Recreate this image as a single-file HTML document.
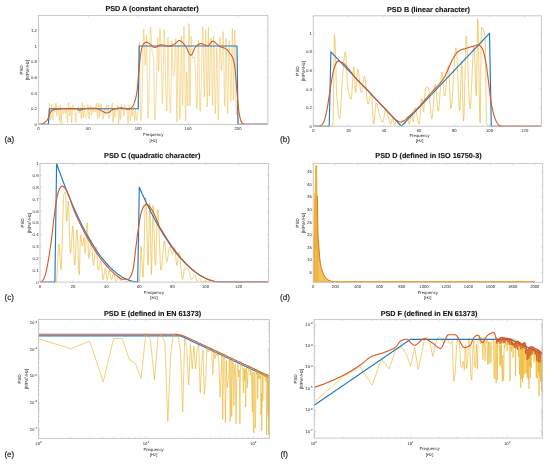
<!DOCTYPE html>
<html><head><meta charset="utf-8"><title>PSD figure</title>
<style>html,body{margin:0;padding:0;background:#fff;width:550px;height:464px;overflow:hidden}svg{display:block}</style>
</head><body>
<svg width="550" height="464" viewBox="0 0 550 464" font-family="'Liberation Sans', Arial, Helvetica, sans-serif" text-rendering="geometricPrecision">
<rect width="550" height="464" fill="#fff"/>
<clipPath id="ca"><rect x="38.4" y="14.5" width="229.49999999999997" height="110.4"/></clipPath>
<polyline clip-path="url(#ca)" points="38.4,124.4 38.7,124.4 39.0,124.4 39.3,124.4 39.6,124.4 39.9,124.4 40.2,124.4 40.5,124.4 40.8,124.4 41.1,124.4 41.4,124.4 41.7,124.4 42.0,124.4 42.3,124.4 42.6,124.4 42.9,124.4 43.2,124.4 43.5,124.4 43.8,124.4 44.1,124.4 44.4,124.4 44.7,124.4 45.0,124.4 45.3,124.4 45.6,124.4 45.9,124.4 46.2,124.4 46.5,124.4 46.8,124.4 47.1,124.4 47.4,124.4 47.7,124.4 48.0,124.4 48.3,124.4 48.6,122.2 48.9,113.8 49.2,105.4 49.5,103.5 49.8,107.9 50.1,114.5 50.4,119.7 50.7,120.1 51.0,115.7 51.3,109.7 51.6,104.8 51.9,104.1 52.2,108.4 52.5,114.7 52.8,119.7 53.1,119.7 53.4,113.5 53.7,107.3 54.0,106.8 54.3,108.8 54.6,111.1 54.9,111.8 55.2,109.8 55.5,106.3 55.8,103.3 56.1,103.0 56.4,108.9 56.7,115.6 57.0,115.4 57.3,109.2 57.6,105.9 57.9,106.5 58.2,108.0 58.5,109.8 58.8,112.7 59.1,117.2 59.4,120.7 59.7,119.5 60.0,109.9 60.3,104.7 60.6,111.8 60.9,121.8 61.2,123.9 61.4,119.7 61.7,113.6 62.0,108.7 62.3,107.8 62.6,109.3 62.9,111.5 63.2,113.3 63.5,113.7 63.8,112.3 64.1,110.3 64.4,109.0 64.7,109.3 65.0,111.1 65.3,112.9 65.6,113.4 65.9,111.8 66.2,109.8 66.5,109.3 66.8,113.6 67.1,119.8 67.4,122.5 67.7,118.7 68.0,111.6 68.3,105.0 68.6,102.7 68.9,106.0 69.2,111.7 69.5,116.0 69.8,115.6 70.1,112.3 70.4,108.4 70.7,106.4 71.0,110.8 71.3,119.3 71.6,123.1 71.9,120.0 72.2,114.0 72.5,108.0 72.8,104.8 73.1,105.8 73.4,108.3 73.7,109.8 74.0,109.2 74.3,108.0 74.6,107.9 74.9,111.2 75.2,116.5 75.5,121.1 75.8,122.5 76.1,118.8 76.4,114.1 76.7,112.7 77.0,112.5 77.3,112.2 77.6,111.2 77.9,109.0 78.2,107.1 78.5,106.8 78.8,109.6 79.1,112.8 79.4,113.0 79.7,110.7 80.0,108.1 80.3,107.3 80.6,110.2 80.9,114.9 81.2,118.9 81.5,118.6 81.8,109.2 82.1,102.7 82.4,105.4 82.7,111.3 83.0,116.5 83.3,117.6 83.6,114.7 83.9,110.2 84.2,106.4 84.5,105.5 84.8,108.7 85.1,113.7 85.4,117.4 85.7,117.9 86.0,117.7 86.3,117.3 86.6,116.9 86.9,115.5 87.2,111.9 87.5,107.7 87.8,104.7 88.1,104.8 88.4,109.0 88.7,114.6 89.0,118.6 89.3,118.4 89.6,114.4 89.9,109.2 90.2,105.5 90.5,105.7 90.8,108.7 91.1,112.5 91.4,115.1 91.7,114.1 92.0,109.9 92.3,107.0 92.6,108.3 92.9,111.3 93.2,112.5 93.5,111.2 93.8,109.1 94.1,107.7 94.4,107.9 94.7,109.2 95.0,110.8 95.3,111.9 95.6,111.6 95.9,108.5 96.2,104.8 96.5,103.2 96.8,106.4 97.1,112.3 97.4,117.6 97.7,118.8 98.0,115.3 98.3,109.6 98.6,104.6 98.9,103.2 99.2,110.0 99.5,117.4 99.8,116.8 100.1,112.8 100.4,107.9 100.7,104.4 101.0,104.0 101.3,105.4 101.6,107.5 101.9,109.7 102.2,111.9 102.5,114.8 102.8,117.5 103.1,119.2 103.4,118.3 103.7,112.8 104.0,108.2 104.3,108.6 104.6,110.4 104.9,112.5 105.2,114.0 105.5,113.4 105.8,110.3 106.1,106.8 106.4,105.3 106.7,106.8 107.0,109.5 107.2,111.9 107.5,112.0 107.8,109.4 108.1,106.2 108.4,105.2 108.7,110.6 109.0,117.8 109.3,118.9 109.6,116.8 109.9,113.9 110.2,111.6 110.5,111.1 110.8,110.9 111.1,110.6 111.4,109.1 111.7,106.6 112.0,104.2 112.3,103.0 112.6,110.2 112.9,122.0 113.2,122.7 113.5,115.3 113.8,108.7 114.1,109.1 114.4,112.4 114.7,115.8 115.0,116.9 115.3,113.7 115.6,109.9 115.9,109.5 116.2,110.1 116.5,110.7 116.8,110.4 117.1,108.8 117.4,106.7 117.7,105.3 118.0,107.8 118.3,117.4 118.6,123.9 118.9,122.0 119.2,117.2 119.5,112.4 119.8,110.1 120.1,113.8 120.4,119.5 120.7,118.4 121.0,109.5 121.3,103.9 121.6,105.2 121.9,107.5 122.2,108.7 122.5,108.5 122.8,108.2 123.1,108.7 123.4,112.6 123.7,116.1 124.0,115.2 124.3,110.9 124.6,106.5 124.9,104.9 125.2,105.8 125.5,107.3 125.8,108.5 126.1,108.6 126.4,108.4 126.7,108.2 127.0,109.0 127.3,113.4 127.6,119.1 127.9,123.3 128.2,123.3 128.5,117.5 128.8,110.1 129.1,105.7 129.4,107.1 129.7,111.8 130.0,117.2 130.3,120.8 130.6,120.1 130.9,115.1 131.2,110.1 131.5,109.1 131.8,111.8 132.1,115.0 132.4,116.0 132.7,113.9 133.0,110.6 133.3,107.7 133.6,107.1 133.9,111.4 134.2,117.5 134.5,121.2 134.8,118.9 135.1,112.9 135.4,109.0 135.7,110.4 136.0,114.5 136.3,118.7 136.6,120.6 136.9,119.8 137.2,117.9 137.5,115.8 137.8,113.2 138.1,109.3 138.4,95.0 138.7,69.0 139.0,46.4 139.3,41.6 139.6,52.6 139.9,71.8 140.2,93.3 140.5,111.5 140.8,120.5 141.1,119.5 141.4,115.5 141.7,109.5 142.0,102.3 142.3,93.7 142.6,78.3 142.9,59.6 143.2,42.1 143.5,30.5 143.8,28.8 144.1,34.6 144.4,44.0 144.7,54.2 145.0,62.2 145.3,65.2 145.6,60.1 145.9,49.7 146.2,39.4 146.5,34.5 146.8,41.8 147.1,60.7 147.4,84.3 147.7,105.7 148.0,117.9 148.3,117.2 148.6,109.9 148.9,98.7 149.2,85.9 149.5,73.5 149.8,57.0 150.1,38.5 150.4,26.9 150.7,27.2 151.0,31.7 151.3,38.0 151.6,44.5 151.9,49.4 152.2,51.8 152.5,53.4 152.8,54.6 153.1,55.8 153.3,57.6 153.6,60.2 153.9,70.2 154.2,89.3 154.5,108.9 154.8,120.3 155.1,119.4 155.4,114.2 155.7,106.3 156.0,96.9 156.3,87.3 156.6,77.8 156.9,64.9 157.2,51.2 157.5,40.8 157.8,37.6 158.1,48.0 158.4,63.8 158.7,71.4 159.0,64.6 159.3,50.4 159.6,36.0 159.9,28.5 160.2,30.2 160.5,35.6 160.8,43.2 161.1,51.6 161.4,62.1 161.7,77.8 162.0,93.5 162.3,103.5 162.6,102.6 162.9,91.5 163.2,74.4 163.5,55.6 163.8,39.2 164.1,29.7 164.4,30.3 164.7,39.0 165.0,52.6 165.3,67.9 165.6,82.1 165.9,92.1 166.2,100.3 166.5,107.5 166.8,111.0 167.1,100.2 167.4,71.2 167.7,43.9 168.0,37.2 168.3,45.2 168.6,59.5 168.9,76.1 169.2,91.0 169.5,100.1 169.8,105.5 170.1,110.1 170.4,112.9 170.7,111.6 171.0,95.7 171.3,71.9 171.6,50.1 171.9,40.6 172.2,46.2 172.5,58.4 172.8,70.5 173.1,75.6 173.4,75.5 173.7,75.2 174.0,74.8 174.3,72.1 174.6,65.1 174.9,56.0 175.2,47.0 175.5,40.3 175.8,38.5 176.1,57.8 176.4,91.4 176.7,118.9 177.0,121.6 177.3,104.4 177.6,78.9 177.9,55.6 178.2,44.7 178.5,50.5 178.8,66.0 179.1,86.0 179.4,105.1 179.7,118.1 180.0,119.5 180.3,105.0 180.6,81.1 180.9,56.0 181.2,38.1 181.5,36.0 181.8,55.5 182.1,83.8 182.4,105.4 182.7,105.9 183.0,88.0 183.3,62.1 183.6,38.2 183.9,26.5 184.2,32.9 184.5,51.7 184.8,76.4 185.1,100.5 185.4,117.6 185.7,120.9 186.0,105.6 186.3,84.1 186.6,72.3 186.9,77.8 187.2,90.8 187.5,103.1 187.8,106.0 188.1,91.1 188.4,65.0 188.7,38.9 189.0,23.5 189.3,34.7 189.6,73.1 189.9,105.8 190.2,102.6 190.5,72.5 190.8,42.7 191.1,36.4 191.4,39.5 191.7,44.6 192.0,50.4 192.3,55.3 192.6,57.9 192.9,57.9 193.2,57.7 193.5,57.4 193.8,57.2 194.1,57.0 194.4,57.4 194.7,60.5 195.0,65.8 195.3,72.3 195.6,79.2 195.9,85.9 196.2,95.4 196.5,104.4 196.8,108.7 197.1,103.9 197.4,90.7 197.7,73.4 198.0,56.4 198.3,43.9 198.6,40.3 198.9,47.8 199.1,62.8 199.4,81.1 199.7,98.2 200.0,109.7 200.3,111.6 200.6,106.4 200.9,97.8 201.2,88.7 201.5,76.9 201.8,61.7 202.1,46.2 202.4,33.4 202.7,26.5 203.0,29.6 203.3,44.4 203.6,65.0 203.9,84.8 204.2,97.1 204.5,95.2 204.8,77.6 205.1,53.9 205.4,34.6 205.7,29.9 206.0,39.9 206.3,58.2 206.6,79.3 206.9,97.4 207.2,107.0 207.5,98.2 207.8,68.8 208.1,38.4 208.4,27.4 208.7,47.1 209.0,78.6 209.3,96.2 209.6,92.2 209.9,81.3 210.2,66.9 210.5,52.5 210.8,41.7 211.1,37.8 211.4,45.3 211.7,61.7 212.0,81.2 212.3,97.7 212.6,105.5 212.9,91.8 213.2,60.2 213.5,35.6 213.8,36.1 214.1,49.2 214.4,68.5 214.7,88.9 215.0,105.6 215.3,113.7 215.6,108.4 215.9,92.5 216.2,72.5 216.5,55.3 216.8,47.7 217.1,55.4 217.4,74.5 217.7,97.0 218.0,114.9 218.3,120.3 218.6,110.9 218.9,92.4 219.2,70.3 219.5,50.3 219.8,37.9 220.1,37.4 220.4,43.6 220.7,52.9 221.0,62.4 221.3,69.2 221.6,70.6 221.9,65.2 222.2,55.7 222.5,44.9 222.8,35.8 223.1,31.5 223.4,36.7 223.7,52.4 224.0,73.0 224.3,92.7 224.6,105.9 224.9,106.3 225.2,89.8 225.5,65.5 225.8,44.7 226.1,38.4 226.4,48.2 226.7,66.9 227.0,88.2 227.3,105.8 227.6,113.4 227.9,106.9 228.2,90.3 228.5,69.7 228.8,51.1 229.1,40.5 229.4,42.6 229.7,54.1 230.0,70.3 230.3,86.6 230.6,98.6 230.9,101.6 231.2,92.3 231.5,74.6 231.8,54.3 232.1,37.2 232.4,28.8 232.7,42.5 233.0,76.0 233.3,100.3 233.6,96.5 233.9,79.2 234.2,57.0 234.5,38.0 234.8,30.1 235.1,39.2 235.4,60.1 235.7,85.0 236.0,105.9 236.3,114.7 236.6,112.6 236.9,107.8 237.2,103.0 237.5,100.9 237.8,106.0 238.1,116.1 238.4,123.7 238.7,124.4 239.0,124.4 239.3,124.4 239.6,124.4 239.9,124.4 240.2,124.4 240.5,124.4 240.8,124.4 241.1,124.4 241.4,124.4 241.7,124.4 242.0,124.4 242.3,124.4 242.6,124.4 242.9,124.4 243.2,124.4 243.5,124.4 243.8,124.4 244.1,124.4 244.4,124.4 244.7,124.4 244.9,124.4 245.2,124.4 245.5,124.4 245.8,124.4 246.1,124.4 246.4,124.4 246.7,124.4 247.0,124.4 247.3,124.4 247.6,124.4 247.9,124.4 248.2,124.4 248.5,124.4 248.8,124.4 249.1,124.4 249.4,124.4 249.7,124.4 250.0,124.4 250.3,124.4 250.6,124.4 250.9,124.4 251.2,124.4 251.5,124.4 251.8,124.4 252.1,124.4 252.4,124.4 252.7,124.4 253.0,124.4 253.3,124.4 253.6,124.4 253.9,124.4 254.2,124.4 254.5,124.4 254.8,124.4 255.1,124.4 255.4,124.4 255.7,124.4 256.0,124.4 256.3,124.4 256.6,124.4 256.9,124.4 257.2,124.4 257.5,124.4 257.8,124.4 258.1,124.4 258.4,124.4 258.7,124.4 259.0,124.4 259.3,124.4 259.6,124.4 259.9,124.4 260.2,124.4 260.5,124.4 260.8,124.4 261.1,124.4 261.4,124.4 261.7,124.4 262.0,124.4 262.3,124.4 262.6,124.4 262.9,124.4 263.2,124.4 263.5,124.4 263.8,124.4 264.1,124.4 264.4,124.4 264.7,124.4 265.0,124.4 265.3,124.4 265.6,124.4 265.9,124.4 266.2,124.4 266.5,124.4 266.8,124.4 267.1,124.4 267.4,124.4 267.7,124.4" fill="none" stroke="#EDB120" stroke-width="0.5" stroke-linejoin="round" opacity="0.85"/>
<polyline clip-path="url(#ca)" points="38.4,124.4 48.4,124.4 49.4,108.7 138.2,108.7 139.2,46.0 237.0,46.0 238.0,124.4 267.9,124.4" fill="none" stroke="#1C78C8" stroke-width="1.15" stroke-linejoin="round" opacity="1.0"/>
<polyline clip-path="url(#ca)" points="38.4,124.3 38.9,124.3 39.4,124.3 39.9,124.3 40.4,124.2 40.9,124.2 41.4,124.1 41.9,124.1 42.4,123.9 42.9,123.7 43.4,123.3 43.9,123.0 44.4,122.6 44.9,122.2 45.4,121.8 45.9,121.4 46.4,120.9 46.9,120.4 47.4,119.7 47.9,118.9 48.4,117.6 48.9,116.1 49.4,114.5 49.9,113.2 50.4,112.4 50.9,111.7 51.4,111.0 51.9,110.5 52.4,110.0 52.9,109.8 53.4,109.6 53.9,109.6 54.4,109.5 54.9,109.5 55.4,109.4 55.9,109.4 56.4,109.4 56.9,109.3 57.4,109.3 57.9,109.3 58.4,109.2 58.9,109.2 59.4,109.1 59.9,109.1 60.4,109.0 60.9,109.0 61.4,108.9 61.9,108.9 62.4,108.8 62.9,108.8 63.4,108.7 63.9,108.7 64.4,108.7 64.9,108.6 65.4,108.6 65.9,108.6 66.4,108.6 66.9,108.6 67.4,108.6 67.9,108.6 68.4,108.6 68.9,108.6 69.4,108.6 69.9,108.6 70.4,108.6 70.9,108.6 71.4,108.6 71.9,108.6 72.4,108.6 72.9,108.6 73.4,108.6 73.9,108.6 74.4,108.6 74.9,108.6 75.4,108.6 75.9,108.6 76.4,108.7 76.9,108.9 77.4,109.2 77.9,109.5 78.4,109.7 78.9,110.0 79.4,110.1 79.9,110.1 80.4,110.0 80.9,109.9 81.4,109.8 81.9,109.6 82.4,109.4 82.9,109.2 83.4,109.1 83.9,108.9 84.4,108.8 84.9,108.6 85.4,108.6 85.9,108.6 86.4,108.5 86.9,108.5 87.4,108.5 87.9,108.4 88.4,108.4 88.9,108.4 89.4,108.3 89.9,108.3 90.4,108.3 90.9,108.3 91.4,108.3 91.9,108.2 92.4,108.2 92.9,108.2 93.4,108.2 93.9,108.2 94.4,108.2 94.9,108.2 95.4,108.3 95.9,108.4 96.4,108.5 96.9,108.6 97.4,108.8 97.9,109.0 98.4,109.2 98.9,109.3 99.4,109.5 99.9,109.8 100.4,110.1 100.9,110.3 101.4,110.6 101.9,110.9 102.4,111.2 102.9,111.5 103.4,111.8 103.9,112.1 104.4,112.3 104.9,112.5 105.4,112.7 105.9,112.9 106.4,113.0 106.9,113.0 107.4,113.0 107.9,112.8 108.4,112.6 108.9,112.3 109.4,112.0 109.9,111.6 110.4,111.2 110.9,110.8 111.4,110.4 111.9,110.1 112.4,109.7 112.9,109.5 113.4,109.3 113.9,109.1 114.4,109.0 114.9,108.9 115.4,108.7 115.9,108.6 116.4,108.5 116.9,108.4 117.4,108.3 117.9,108.2 118.4,108.1 118.9,108.1 119.4,108.0 119.9,108.0 120.4,107.9 120.9,107.9 121.4,107.9 121.9,107.9 122.4,108.0 122.9,108.1 123.4,108.2 123.9,108.3 124.4,108.4 124.9,108.5 125.4,108.7 125.9,108.8 126.4,108.9 126.9,109.0 127.4,109.1 127.9,109.2 128.4,109.2 128.9,109.2 129.4,109.1 129.9,108.9 130.4,108.5 130.9,108.1 131.4,107.7 131.9,107.2 132.4,106.6 132.9,106.0 133.4,105.0 133.9,103.9 134.4,102.6 134.9,101.1 135.4,99.3 135.9,97.3 136.4,94.8 136.9,92.0 137.4,88.4 137.9,82.7 138.4,76.0 138.9,70.0 139.4,64.9 139.9,60.1 140.4,56.0 140.9,52.8 141.4,50.0 141.9,47.6 142.4,45.9 142.9,45.0 143.4,44.3 143.9,43.6 144.4,43.1 144.9,42.7 145.4,42.4 145.9,42.3 146.4,42.3 146.9,42.4 147.4,42.6 147.9,42.8 148.4,43.1 148.9,43.3 149.4,43.6 149.9,43.9 150.4,44.3 150.9,44.8 151.4,45.3 151.9,45.8 152.4,46.3 152.9,46.7 153.4,47.1 153.9,47.3 154.4,47.5 154.9,47.5 155.4,47.4 155.9,47.2 156.4,47.0 156.9,46.7 157.4,46.4 157.9,46.1 158.4,45.8 158.9,45.6 159.4,45.3 159.9,45.1 160.4,45.0 160.9,44.9 161.4,44.9 161.9,44.9 162.4,45.0 162.9,45.1 163.4,45.2 163.9,45.3 164.4,45.4 164.9,45.5 165.4,45.7 165.9,45.8 166.4,45.9 166.9,46.0 167.4,46.1 167.9,46.2 168.4,46.2 168.9,46.2 169.4,46.2 169.9,46.1 170.4,46.0 170.9,45.8 171.4,45.6 171.9,45.4 172.4,45.2 172.9,44.9 173.4,44.7 173.9,44.4 174.4,44.1 174.9,43.8 175.4,43.5 175.9,43.2 176.4,42.7 176.9,42.2 177.4,41.6 177.9,41.1 178.4,40.8 178.9,40.5 179.4,40.5 179.9,40.6 180.4,40.8 180.9,41.1 181.4,41.5 181.9,41.9 182.4,42.4 182.9,42.9 183.4,43.5 183.9,44.1 184.4,44.7 184.9,45.3 185.4,46.0 185.9,46.6 186.4,47.5 186.9,48.5 187.4,49.6 187.9,50.8 188.4,52.0 188.9,53.1 189.4,54.0 189.9,54.7 190.4,55.2 190.9,55.3 191.4,55.0 191.9,54.4 192.4,53.5 192.9,52.4 193.4,51.3 193.9,50.0 194.4,48.9 194.9,47.8 195.4,46.9 195.9,46.3 196.4,45.9 196.9,45.5 197.4,45.2 197.9,44.8 198.4,44.5 198.9,44.2 199.4,44.0 199.9,43.8 200.4,43.7 200.9,43.6 201.4,43.6 201.9,43.7 202.4,43.8 202.9,44.0 203.4,44.2 203.9,44.4 204.4,44.7 204.9,44.9 205.4,45.1 205.9,45.3 206.4,45.5 206.9,45.6 207.4,45.7 207.9,45.7 208.4,45.4 208.9,45.0 209.4,44.4 209.9,43.8 210.4,43.1 210.9,42.5 211.4,41.9 211.9,41.5 212.4,41.2 212.9,41.1 213.4,41.2 213.9,41.4 214.4,41.7 214.9,42.1 215.4,42.6 215.9,43.1 216.4,43.6 216.9,44.1 217.4,44.6 217.9,45.1 218.4,45.6 218.9,46.0 219.4,46.3 219.9,46.5 220.4,46.7 220.9,46.9 221.4,47.1 221.9,47.2 222.4,47.4 222.9,47.5 223.4,47.7 223.9,47.9 224.4,48.1 224.9,48.3 225.4,48.6 225.9,48.9 226.4,49.2 226.9,49.7 227.4,50.2 227.9,50.7 228.4,51.3 228.9,52.0 229.4,52.6 229.9,53.3 230.4,54.0 230.9,54.7 231.4,55.4 231.9,56.2 232.4,57.1 232.9,58.3 233.4,59.8 233.9,61.8 234.4,64.3 234.9,67.5 235.4,72.6 235.9,79.0 236.4,85.3 236.9,90.9 237.4,96.6 237.9,102.2 238.4,107.3 238.9,111.6 239.4,114.6 239.9,117.1 240.4,119.2 240.9,120.8 241.4,121.9 241.9,122.7 242.4,123.4 242.9,123.9 243.4,124.0 243.9,124.1 244.4,124.2 244.9,124.3 245.4,124.3 245.9,124.3 246.4,124.3 246.9,124.3 247.4,124.3 247.9,124.3 248.4,124.3 248.9,124.3 249.4,124.3 249.9,124.3 250.4,124.3 250.9,124.3 251.4,124.3 251.9,124.3 252.4,124.3 252.9,124.3 253.4,124.3 253.9,124.3 254.4,124.3 254.9,124.3 255.4,124.3 255.9,124.3 256.4,124.3 256.9,124.3 257.4,124.3 257.9,124.3 258.4,124.3 258.9,124.3 259.4,124.3 259.9,124.3 260.4,124.3 260.9,124.3 261.4,124.3 261.9,124.3 262.4,124.3 262.9,124.3 263.4,124.3 263.9,124.3 264.4,124.3 264.9,124.3 265.4,124.3 265.9,124.3 266.4,124.3 266.9,124.3 267.4,124.3 267.9,124.3" fill="none" stroke="#DA5620" stroke-width="1.1" stroke-linejoin="round" opacity="1.0"/>
<rect x="38.4" y="15.5" width="229.50" height="108.90" fill="none" stroke="#c4c4c4" stroke-width="0.9"/>
<path d="M38.40 124.4v-2.0M38.40 15.5v2.0" stroke="#c4c4c4" stroke-width="0.5"/>
<text x="38.40" y="129.80" font-size="4.2" text-anchor="middle" fill="#262626">0</text>
<path d="M88.29 124.4v-2.0M88.29 15.5v2.0" stroke="#c4c4c4" stroke-width="0.5"/>
<text x="88.29" y="129.80" font-size="4.2" text-anchor="middle" fill="#262626">50</text>
<path d="M138.18 124.4v-2.0M138.18 15.5v2.0" stroke="#c4c4c4" stroke-width="0.5"/>
<text x="138.18" y="129.80" font-size="4.2" text-anchor="middle" fill="#262626">100</text>
<path d="M188.07 124.4v-2.0M188.07 15.5v2.0" stroke="#c4c4c4" stroke-width="0.5"/>
<text x="188.07" y="129.80" font-size="4.2" text-anchor="middle" fill="#262626">150</text>
<path d="M237.97 124.4v-2.0M237.97 15.5v2.0" stroke="#c4c4c4" stroke-width="0.5"/>
<text x="237.97" y="129.80" font-size="4.2" text-anchor="middle" fill="#262626">200</text>
<path d="M38.4 124.40h2.0M267.9 124.40h-2.0" stroke="#c4c4c4" stroke-width="0.5"/>
<text x="37.00" y="126.00" font-size="4.3" text-anchor="end" fill="#262626">0</text>
<path d="M38.4 108.72h2.0M267.9 108.72h-2.0" stroke="#c4c4c4" stroke-width="0.5"/>
<text x="37.00" y="110.32" font-size="4.3" text-anchor="end" fill="#262626">0.2</text>
<path d="M38.4 93.04h2.0M267.9 93.04h-2.0" stroke="#c4c4c4" stroke-width="0.5"/>
<text x="37.00" y="94.64" font-size="4.3" text-anchor="end" fill="#262626">0.4</text>
<path d="M38.4 77.36h2.0M267.9 77.36h-2.0" stroke="#c4c4c4" stroke-width="0.5"/>
<text x="37.00" y="78.96" font-size="4.3" text-anchor="end" fill="#262626">0.6</text>
<path d="M38.4 61.68h2.0M267.9 61.68h-2.0" stroke="#c4c4c4" stroke-width="0.5"/>
<text x="37.00" y="63.28" font-size="4.3" text-anchor="end" fill="#262626">0.8</text>
<path d="M38.4 46.00h2.0M267.9 46.00h-2.0" stroke="#c4c4c4" stroke-width="0.5"/>
<text x="37.00" y="47.60" font-size="4.3" text-anchor="end" fill="#262626">1</text>
<path d="M38.4 30.32h2.0M267.9 30.32h-2.0" stroke="#c4c4c4" stroke-width="0.5"/>
<text x="37.00" y="31.92" font-size="4.3" text-anchor="end" fill="#262626">1.2</text>
<text x="152.10" y="11.40" font-size="7.25" font-weight="bold" text-anchor="middle" fill="#111" stroke="#111" stroke-width="0.12">PSD A (constant character)</text>
<text x="153.20" y="136.10" font-size="4.3" text-anchor="middle" fill="#262626">Frequency</text>
<text x="153.20" y="141.50" font-size="4.2" text-anchor="middle" fill="#262626">[Hz]</text>
<text transform="translate(22.60,69.95) rotate(-90)" font-size="4.5" text-anchor="middle" fill="#262626">PSD</text>
<text transform="translate(29.40,69.95) rotate(-90)" font-size="4.5" text-anchor="middle" fill="#262626">[MPa<tspan font-size="3" dy="-1.5">2</tspan><tspan dy="1.5">/Hz]</tspan></text>
<text x="4.4" y="141.60000000000002" font-size="8.1" fill="#222" stroke="#222" stroke-width="0.15">(a)</text>
<clipPath id="cb"><rect x="313.3" y="14.8" width="228.09999999999997" height="111.9"/></clipPath>
<polyline clip-path="url(#cb)" points="313.3,126.2 313.7,126.2 314.2,126.2 314.6,126.2 315.1,126.2 315.5,126.2 315.9,126.2 316.4,126.2 316.8,126.2 317.3,126.2 317.7,126.2 318.1,126.2 318.6,126.2 319.0,126.2 319.5,126.2 319.9,126.2 320.3,126.2 320.8,126.2 321.2,126.2 321.7,126.2 322.1,126.2 322.6,126.2 323.0,126.2 323.4,126.2 323.9,126.2 324.3,126.2 324.8,126.2 325.2,126.2 325.6,126.2 326.1,126.2 326.5,126.2 327.0,126.2 327.4,126.2 327.8,126.2 328.3,126.2 328.7,126.2 329.2,126.2 329.6,126.2 330.0,126.2 330.5,126.2 330.9,126.2 331.4,126.2 331.8,126.1 332.2,126.0 332.7,125.8 333.1,122.1 333.6,93.6 334.0,56.5 334.4,34.7 334.9,37.8 335.3,48.8 335.8,64.1 336.2,79.9 336.6,92.9 337.1,99.9 337.5,104.8 338.0,109.3 338.4,113.1 338.8,116.1 339.3,118.0 339.7,118.8 340.2,116.7 340.6,110.9 341.1,103.0 341.5,94.2 341.9,86.0 342.4,79.6 342.8,74.2 343.3,68.6 343.7,63.2 344.1,58.4 344.6,54.7 345.0,52.4 345.5,52.1 345.9,55.9 346.3,63.0 346.8,71.6 347.2,80.1 347.7,86.6 348.1,89.9 348.5,92.1 349.0,94.2 349.4,95.9 349.9,97.4 350.3,98.5 350.7,99.1 351.2,99.1 351.6,96.1 352.1,90.0 352.5,82.5 352.9,75.1 353.4,69.4 353.8,66.8 354.3,70.8 354.7,81.0 355.1,90.3 355.6,92.5 356.0,89.3 356.5,83.7 356.9,77.4 357.4,72.0 357.8,69.2 358.2,69.8 358.7,72.4 359.1,76.4 359.6,81.0 360.0,85.6 360.4,89.5 360.9,92.1 361.3,92.7 361.8,91.5 362.2,89.1 362.6,86.1 363.1,82.7 363.5,79.7 364.0,77.3 364.4,76.1 364.8,76.7 365.3,79.5 365.7,83.7 366.2,88.8 366.6,94.0 367.0,98.7 367.5,102.2 367.9,103.9 368.4,103.5 368.8,102.3 369.2,100.4 369.7,98.2 370.1,96.0 370.6,94.2 371.0,93.0 371.4,93.0 371.9,97.7 372.3,106.0 372.8,115.0 373.2,122.0 373.6,124.3 374.1,122.3 374.5,118.0 375.0,112.7 375.4,107.7 375.9,104.0 376.3,103.0 376.7,103.6 377.2,104.9 377.6,106.7 378.1,108.6 378.5,110.6 378.9,112.4 379.4,113.8 379.8,115.3 380.3,116.9 380.7,118.4 381.1,119.9 381.6,121.1 382.0,122.0 382.5,122.4 382.9,122.3 383.3,121.0 383.8,118.8 384.2,116.1 384.7,113.4 385.1,110.9 385.5,109.2 386.0,108.5 386.4,109.1 386.9,110.4 387.3,112.1 387.7,114.1 388.2,116.0 388.6,117.7 389.1,119.7 389.5,121.7 389.9,123.4 390.4,124.3 390.8,124.0 391.3,122.6 391.7,120.8 392.1,119.0 392.6,118.0 393.0,118.3 393.5,120.4 393.9,123.2 394.4,125.1 394.8,125.0 395.2,123.6 395.7,121.9 396.1,120.7 396.6,120.7 397.0,121.2 397.4,121.8 397.9,122.7 398.3,123.6 398.8,124.4 399.2,125.0 399.6,125.3 400.1,125.1 400.5,124.6 401.0,123.7 401.4,122.7 401.8,121.7 402.3,120.7 402.7,120.0 403.2,119.7 403.6,120.2 404.0,121.7 404.5,123.4 404.9,124.3 405.4,123.8 405.8,122.1 406.2,120.0 406.7,118.1 407.1,117.0 407.6,117.4 408.0,119.1 408.4,121.4 408.9,123.4 409.3,124.3 409.8,123.2 410.2,120.4 410.7,117.1 411.1,114.5 411.5,113.8 412.0,115.5 412.4,118.3 412.9,120.8 413.3,121.4 413.7,118.3 414.2,113.2 414.6,108.8 415.1,107.7 415.5,108.4 415.9,110.0 416.4,112.1 416.8,114.6 417.3,117.2 417.7,119.6 418.1,121.7 418.6,123.2 419.0,123.9 419.5,122.9 419.9,119.0 420.3,113.5 420.8,107.5 421.2,102.2 421.7,98.9 422.1,98.8 422.5,102.5 423.0,107.7 423.4,111.6 423.9,111.3 424.3,104.8 424.7,96.0 425.2,89.3 425.6,88.0 426.1,87.7 426.5,87.4 426.9,87.2 427.4,87.1 427.8,87.0 428.3,87.4 428.7,89.8 429.2,93.8 429.6,98.8 430.0,104.2 430.5,109.5 430.9,114.2 431.4,117.5 431.8,118.9 432.2,117.7 432.7,113.6 433.1,107.7 433.6,100.9 434.0,94.3 434.4,88.7 434.9,85.1 435.3,84.6 435.8,86.9 436.2,91.2 436.6,96.6 437.1,102.2 437.5,107.0 438.0,110.3 438.4,111.2 438.8,109.0 439.3,104.3 439.7,98.1 440.2,91.1 440.6,84.1 441.0,78.0 441.5,73.6 441.9,71.8 442.4,73.3 442.8,77.6 443.2,83.5 443.7,89.4 444.1,94.0 444.6,96.0 445.0,95.0 445.5,92.0 445.9,87.8 446.3,82.8 446.8,77.5 447.2,72.6 447.7,68.6 448.1,66.0 448.5,65.6 449.0,71.0 449.4,81.0 449.9,92.6 450.3,102.7 450.7,108.4 451.2,108.1 451.6,105.3 452.1,100.7 452.5,94.6 452.9,87.6 453.4,80.0 453.8,72.3 454.3,65.0 454.7,58.4 455.1,53.0 455.6,49.3 456.0,47.6 456.5,49.4 456.9,55.4 457.3,64.6 457.8,75.6 458.2,87.0 458.7,97.5 459.1,105.8 459.5,110.6 460.0,109.4 460.4,97.4 460.9,80.6 461.3,66.1 461.7,61.4 462.2,71.5 462.6,90.7 463.1,110.1 463.5,121.0 464.0,117.2 464.4,102.8 464.8,82.6 465.3,61.6 465.7,44.6 466.2,36.4 466.6,38.2 467.0,44.7 467.5,54.5 467.9,66.3 468.4,78.7 468.8,90.4 469.2,100.2 469.7,106.8 470.1,108.7 470.6,105.7 471.0,99.1 471.4,89.9 471.9,79.3 472.3,68.4 472.8,58.5 473.2,50.6 473.6,45.9 474.1,46.0 474.5,53.5 475.0,65.8 475.4,79.4 475.8,90.6 476.3,95.9 476.7,81.0 477.2,45.5 477.6,18.9 478.0,22.0 478.5,41.5 478.9,68.9 479.4,96.8 479.8,117.5 480.2,122.9 480.7,86.8 481.1,39.0 481.6,27.4 482.0,27.5 482.5,28.0 482.9,28.6 483.3,29.5 483.8,30.8 484.2,32.3 484.7,34.3 485.1,36.6 485.5,51.6 486.0,94.9 486.4,123.7 486.9,124.6 487.3,125.1 487.7,125.5 488.2,125.9 488.6,126.1 489.1,126.2 489.5,126.2 489.9,126.2 490.4,126.2 490.8,126.2 491.3,126.2 491.7,126.2 492.1,126.2 492.6,126.2 493.0,126.2 493.5,126.2 493.9,126.2 494.3,126.2 494.8,126.2 495.2,126.2 495.7,126.2 496.1,126.2 496.5,126.2 497.0,126.2 497.4,126.2 497.9,126.2 498.3,126.2 498.8,126.2 499.2,126.2 499.6,126.2 500.1,126.2 500.5,126.2 501.0,126.2 501.4,126.2 501.8,126.2 502.3,126.2 502.7,126.2 503.2,126.2 503.6,126.2 504.0,126.2 504.5,126.2 504.9,126.2 505.4,126.2 505.8,126.2 506.2,126.2 506.7,126.2 507.1,126.2 507.6,126.2 508.0,126.2 508.4,126.2 508.9,126.2 509.3,126.2 509.8,126.2 510.2,126.2 510.6,126.2 511.1,126.2 511.5,126.2 512.0,126.2 512.4,126.2 512.8,126.2 513.3,126.2 513.7,126.2 514.2,126.2 514.6,126.2 515.0,126.2 515.5,126.2 515.9,126.2 516.4,126.2 516.8,126.2 517.3,126.2 517.7,126.2 518.1,126.2 518.6,126.2 519.0,126.2 519.5,126.2 519.9,126.2 520.3,126.2 520.8,126.2 521.2,126.2 521.7,126.2 522.1,126.2 522.5,126.2 523.0,126.2 523.4,126.2 523.9,126.2 524.3,126.2 524.7,126.2 525.2,126.2 525.6,126.2 526.1,126.2 526.5,126.2 526.9,126.2 527.4,126.2 527.8,126.2 528.3,126.2 528.7,126.2 529.1,126.2 529.6,126.2 530.0,126.2 530.5,126.2 530.9,126.2 531.3,126.2 531.8,126.2 532.2,126.2 532.7,126.2 533.1,126.2 533.5,126.2 534.0,126.2 534.4,126.2 534.9,126.2 535.3,126.2 535.8,126.2 536.2,126.2 536.6,126.2 537.1,126.2 537.5,126.2 538.0,126.2 538.4,126.2 538.8,126.2 539.3,126.2 539.7,126.2 540.2,126.2 540.6,126.2 541.0,126.2" fill="none" stroke="#EDB120" stroke-width="0.6" stroke-linejoin="round" opacity="1.0"/>
<polyline clip-path="url(#cb)" points="313.3,126.2 329.2,126.2 330.9,51.9 401.4,126.2 489.5,33.3 491.3,126.2 541.4,126.2" fill="none" stroke="#1C78C8" stroke-width="1.15" stroke-linejoin="round" opacity="1.0"/>
<polyline clip-path="url(#cb)" points="313.3,126.2 314.0,126.2 314.7,126.2 315.4,126.2 316.1,126.2 316.8,126.2 317.5,126.2 318.2,126.2 318.9,126.2 319.6,126.0 320.3,125.7 321.1,125.4 321.8,124.9 322.5,124.0 323.2,122.9 323.9,121.5 324.6,119.7 325.3,117.3 326.0,114.4 326.7,111.3 327.4,107.4 328.1,102.9 328.8,98.3 329.5,93.9 330.2,89.1 330.9,84.5 331.6,80.3 332.3,76.4 333.0,72.8 333.7,69.7 334.4,67.4 335.1,65.5 335.9,63.7 336.6,62.3 337.3,61.4 338.0,61.2 338.7,61.2 339.4,61.4 340.1,61.6 340.8,61.9 341.5,62.2 342.2,62.6 342.9,62.9 343.6,63.4 344.3,64.0 345.0,64.7 345.7,65.5 346.4,66.3 347.1,67.2 347.8,68.1 348.5,68.9 349.2,69.7 349.9,70.6 350.7,71.6 351.4,72.5 352.1,73.4 352.8,74.4 353.5,75.3 354.2,76.3 354.9,77.2 355.6,78.1 356.3,78.9 357.0,79.7 357.7,80.5 358.4,81.2 359.1,81.9 359.8,82.6 360.5,83.2 361.2,83.9 361.9,84.5 362.6,85.2 363.3,85.8 364.0,86.5 364.8,87.1 365.5,87.8 366.2,88.5 366.9,89.3 367.6,90.0 368.3,90.7 369.0,91.5 369.7,92.3 370.4,93.0 371.1,93.8 371.8,94.5 372.5,95.3 373.2,96.1 373.9,96.8 374.6,97.6 375.3,98.3 376.0,99.1 376.7,99.8 377.4,100.6 378.1,101.3 378.8,102.1 379.6,102.8 380.3,103.6 381.0,104.3 381.7,105.1 382.4,105.8 383.1,106.6 383.8,107.3 384.5,108.1 385.2,108.9 385.9,109.6 386.6,110.4 387.3,111.2 388.0,112.0 388.7,112.7 389.4,113.5 390.1,114.2 390.8,114.9 391.5,115.6 392.2,116.3 392.9,117.0 393.6,117.7 394.4,118.4 395.1,119.1 395.8,119.7 396.5,120.2 397.2,120.6 397.9,121.0 398.6,121.4 399.3,121.7 400.0,121.9 400.7,122.0 401.4,121.9 402.1,121.7 402.8,121.3 403.5,121.0 404.2,120.6 404.9,120.1 405.6,119.6 406.3,118.9 407.0,118.3 407.7,117.5 408.4,116.8 409.2,116.2 409.9,115.5 410.6,114.9 411.3,114.2 412.0,113.6 412.7,112.9 413.4,112.3 414.1,111.6 414.8,111.0 415.5,110.3 416.2,109.6 416.9,108.9 417.6,108.2 418.3,107.5 419.0,106.8 419.7,106.1 420.4,105.3 421.1,104.5 421.8,103.7 422.5,102.9 423.2,102.0 424.0,101.1 424.7,100.3 425.4,99.4 426.1,98.5 426.8,97.7 427.5,96.9 428.2,96.1 428.9,95.3 429.6,94.5 430.3,93.8 431.0,93.0 431.7,92.2 432.4,91.5 433.1,90.7 433.8,90.0 434.5,89.2 435.2,88.4 435.9,87.6 436.6,86.8 437.3,86.1 438.0,85.3 438.8,84.6 439.5,83.8 440.2,83.0 440.9,82.2 441.6,81.3 442.3,80.3 443.0,79.3 443.7,78.3 444.4,77.0 445.1,75.7 445.8,74.3 446.5,72.8 447.2,71.2 447.9,69.7 448.6,68.2 449.3,66.7 450.0,65.0 450.7,63.3 451.4,61.7 452.1,60.1 452.9,58.7 453.6,57.5 454.3,56.4 455.0,55.3 455.7,54.3 456.4,53.3 457.1,52.5 457.8,51.8 458.5,51.2 459.2,50.8 459.9,50.4 460.6,50.1 461.3,49.8 462.0,49.5 462.7,49.3 463.4,49.1 464.1,48.9 464.8,48.7 465.5,48.5 466.2,48.3 466.9,48.1 467.7,47.8 468.4,47.6 469.1,47.4 469.8,47.2 470.5,47.0 471.2,46.8 471.9,46.6 472.6,46.5 473.3,46.3 474.0,46.0 474.7,45.8 475.4,45.5 476.1,45.3 476.8,45.1 477.5,45.0 478.2,44.9 478.9,45.1 479.6,45.4 480.3,46.0 481.0,46.8 481.7,47.7 482.5,48.8 483.2,50.6 483.9,53.1 484.6,56.1 485.3,59.4 486.0,63.0 486.7,67.4 487.4,72.7 488.1,78.4 488.8,83.9 489.5,89.7 490.2,95.6 490.9,100.8 491.6,104.9 492.3,108.4 493.0,111.6 493.7,114.4 494.4,116.8 495.1,118.8 495.8,120.4 496.5,122.0 497.3,123.3 498.0,124.3 498.7,125.0 499.4,125.3 500.1,125.6 500.8,125.9 501.5,126.1 502.2,126.2 502.9,126.2 503.6,126.2 504.3,126.2 505.0,126.2 505.7,126.2 506.4,126.2 507.1,126.2 507.8,126.2 508.5,126.2 509.2,126.2 509.9,126.2 510.6,126.2 511.3,126.2 512.1,126.2 512.8,126.2 513.5,126.2 514.2,126.2 514.9,126.2 515.6,126.2 516.3,126.2 517.0,126.2 517.7,126.2 518.4,126.2 519.1,126.2 519.8,126.2 520.5,126.2 521.2,126.2 521.9,126.2 522.6,126.2 523.3,126.2 524.0,126.2 524.7,126.2 525.4,126.2 526.1,126.2 526.9,126.2 527.6,126.2 528.3,126.2 529.0,126.2 529.7,126.2 530.4,126.2 531.1,126.2 531.8,126.2 532.5,126.2 533.2,126.2 533.9,126.2 534.6,126.2 535.3,126.2 536.0,126.2 536.7,126.2 537.4,126.2 538.1,126.2 538.8,126.2 539.5,126.2 540.2,126.2 541.0,126.2" fill="none" stroke="#DA5620" stroke-width="1.1" stroke-linejoin="round" opacity="1.0"/>
<rect x="313.3" y="15.8" width="228.10" height="110.40" fill="none" stroke="#c4c4c4" stroke-width="0.9"/>
<path d="M313.30 126.2v-2.0M313.30 15.8v2.0" stroke="#c4c4c4" stroke-width="0.5"/>
<text x="313.30" y="131.60" font-size="4.2" text-anchor="middle" fill="#262626">0</text>
<path d="M348.54 126.2v-2.0M348.54 15.8v2.0" stroke="#c4c4c4" stroke-width="0.5"/>
<text x="348.54" y="131.60" font-size="4.2" text-anchor="middle" fill="#262626">20</text>
<path d="M383.78 126.2v-2.0M383.78 15.8v2.0" stroke="#c4c4c4" stroke-width="0.5"/>
<text x="383.78" y="131.60" font-size="4.2" text-anchor="middle" fill="#262626">40</text>
<path d="M419.02 126.2v-2.0M419.02 15.8v2.0" stroke="#c4c4c4" stroke-width="0.5"/>
<text x="419.02" y="131.60" font-size="4.2" text-anchor="middle" fill="#262626">60</text>
<path d="M454.26 126.2v-2.0M454.26 15.8v2.0" stroke="#c4c4c4" stroke-width="0.5"/>
<text x="454.26" y="131.60" font-size="4.2" text-anchor="middle" fill="#262626">80</text>
<path d="M489.50 126.2v-2.0M489.50 15.8v2.0" stroke="#c4c4c4" stroke-width="0.5"/>
<text x="489.50" y="131.60" font-size="4.2" text-anchor="middle" fill="#262626">100</text>
<path d="M524.74 126.2v-2.0M524.74 15.8v2.0" stroke="#c4c4c4" stroke-width="0.5"/>
<text x="524.74" y="131.60" font-size="4.2" text-anchor="middle" fill="#262626">120</text>
<path d="M313.3 126.20h2.0M541.4 126.20h-2.0" stroke="#c4c4c4" stroke-width="0.5"/>
<text x="311.90" y="127.80" font-size="4.3" text-anchor="end" fill="#262626">0</text>
<path d="M313.3 107.62h2.0M541.4 107.62h-2.0" stroke="#c4c4c4" stroke-width="0.5"/>
<text x="311.90" y="109.22" font-size="4.3" text-anchor="end" fill="#262626">0.2</text>
<path d="M313.3 89.04h2.0M541.4 89.04h-2.0" stroke="#c4c4c4" stroke-width="0.5"/>
<text x="311.90" y="90.64" font-size="4.3" text-anchor="end" fill="#262626">0.4</text>
<path d="M313.3 70.46h2.0M541.4 70.46h-2.0" stroke="#c4c4c4" stroke-width="0.5"/>
<text x="311.90" y="72.06" font-size="4.3" text-anchor="end" fill="#262626">0.6</text>
<path d="M313.3 51.88h2.0M541.4 51.88h-2.0" stroke="#c4c4c4" stroke-width="0.5"/>
<text x="311.90" y="53.48" font-size="4.3" text-anchor="end" fill="#262626">0.8</text>
<path d="M313.3 33.30h2.0M541.4 33.30h-2.0" stroke="#c4c4c4" stroke-width="0.5"/>
<text x="311.90" y="34.90" font-size="4.3" text-anchor="end" fill="#262626">1</text>
<text x="428.50" y="11.60" font-size="7.25" font-weight="bold" text-anchor="middle" fill="#111" stroke="#111" stroke-width="0.12">PSD B (linear character)</text>
<text x="419.60" y="136.90" font-size="4.3" text-anchor="middle" fill="#262626">Frequency</text>
<text x="419.60" y="141.90" font-size="4.2" text-anchor="middle" fill="#262626">[Hz]</text>
<text transform="translate(299.10,71.00) rotate(-90)" font-size="4.5" text-anchor="middle" fill="#262626">PSD</text>
<text transform="translate(305.20,71.00) rotate(-90)" font-size="4.5" text-anchor="middle" fill="#262626">[MPa<tspan font-size="3" dy="-1.5">2</tspan><tspan dy="1.5">/Hz]</tspan></text>
<text x="280.0" y="141.60000000000002" font-size="8.1" fill="#222" stroke="#222" stroke-width="0.15">(b)</text>
<clipPath id="cc"><rect x="40.0" y="162.5" width="228.60000000000002" height="120.10000000000002"/></clipPath>
<polyline clip-path="url(#cc)" points="40.0,282.1 40.4,282.1 40.8,282.1 41.2,282.1 41.7,282.1 42.1,282.1 42.5,282.1 42.9,282.1 43.3,282.1 43.7,282.1 44.1,282.1 44.6,282.1 45.0,282.1 45.4,282.1 45.8,282.1 46.2,282.1 46.6,282.1 47.0,282.1 47.4,282.1 47.9,282.1 48.3,282.1 48.7,282.1 49.1,282.1 49.5,282.1 49.9,282.1 50.3,282.1 50.8,282.1 51.2,282.1 51.6,282.1 52.0,282.1 52.4,282.1 52.8,282.1 53.2,282.1 53.7,282.1 54.1,282.1 54.5,282.1 54.9,282.1 55.3,282.1 55.7,282.1 56.1,282.1 56.6,282.1 57.0,275.7 57.4,267.7 57.8,259.3 58.2,251.7 58.6,246.3 59.0,244.1 59.5,247.1 59.9,254.0 60.3,262.0 60.7,268.3 61.1,270.1 61.5,264.2 61.9,252.0 62.3,236.5 62.8,220.2 63.2,205.9 63.6,196.5 64.0,193.9 64.4,193.0 64.8,192.4 65.2,192.0 65.7,193.7 66.1,207.4 66.5,221.1 66.9,221.2 67.3,213.9 67.7,205.5 68.1,201.5 68.6,205.8 69.0,216.7 69.4,230.3 69.8,243.3 70.2,252.0 70.6,253.3 71.0,249.7 71.5,243.6 71.9,236.6 72.3,230.2 72.7,226.0 73.1,226.3 73.5,236.5 73.9,251.3 74.3,263.0 74.8,265.0 75.2,259.9 75.6,251.5 76.0,242.1 76.4,234.1 76.8,230.0 77.2,232.4 77.7,240.9 78.1,252.5 78.5,264.0 78.9,272.5 79.3,274.5 79.7,262.2 80.1,244.0 80.6,234.7 81.0,236.2 81.4,239.8 81.8,243.7 82.2,246.2 82.6,245.9 83.0,243.2 83.5,239.7 83.9,237.3 84.3,239.0 84.7,247.1 85.1,253.4 85.5,251.4 85.9,243.9 86.3,234.4 86.8,226.3 87.2,222.8 87.6,228.4 88.0,240.6 88.4,252.8 88.8,258.4 89.2,256.8 89.7,252.8 90.1,247.9 90.5,243.2 90.9,240.0 91.3,239.8 91.7,243.5 92.1,249.7 92.6,256.6 93.0,262.4 93.4,265.4 93.8,264.6 94.2,261.4 94.6,257.0 95.0,252.3 95.5,248.5 95.9,246.6 96.3,247.8 96.7,252.3 97.1,258.4 97.5,264.5 97.9,268.9 98.4,270.2 98.8,269.1 99.2,267.0 99.6,264.5 100.0,262.2 100.4,260.9 100.8,261.3 101.2,264.1 101.7,268.4 102.1,273.0 102.5,277.1 102.9,279.5 103.3,279.3 103.7,277.4 104.1,274.4 104.6,271.3 105.0,268.9 105.4,267.9 105.8,269.7 106.2,273.8 106.6,277.9 107.0,279.7 107.5,278.9 107.9,277.0 108.3,274.5 108.7,272.1 109.1,270.5 109.5,270.5 109.9,272.5 110.4,275.6 110.8,278.5 111.2,279.7 111.6,279.3 112.0,278.2 112.4,276.8 112.8,275.3 113.2,274.2 113.7,273.8 114.1,274.3 114.5,275.6 114.9,277.4 115.3,279.1 115.7,280.4 116.1,280.9 116.6,280.6 117.0,279.7 117.4,278.5 117.8,277.4 118.2,276.5 118.6,276.2 119.0,276.5 119.5,277.4 119.9,278.5 120.3,279.7 120.7,280.6 121.1,280.9 121.5,280.7 121.9,280.3 122.4,279.7 122.8,279.2 123.2,278.7 123.6,278.5 124.0,278.8 124.4,279.5 124.8,280.3 125.2,281.2 125.7,281.8 126.1,282.1 126.5,282.0 126.9,281.9 127.3,281.7 127.7,281.5 128.1,281.3 128.6,281.1 129.0,281.0 129.4,280.9 129.8,281.0 130.2,281.1 130.6,281.3 131.0,281.5 131.5,281.7 131.9,281.9 132.3,282.0 132.7,282.1 133.1,282.1 133.5,282.1 133.9,282.1 134.4,282.1 134.8,282.0 135.2,282.0 135.6,282.0 136.0,281.9 136.4,281.8 136.8,281.8 137.3,281.7 137.7,281.6 138.1,281.5 138.5,281.4 138.9,281.2 139.3,281.1 139.7,280.5 140.1,269.9 140.6,254.5 141.0,246.5 141.4,250.0 141.8,258.1 142.2,267.6 142.6,275.1 143.0,277.2 143.5,270.7 143.9,257.5 144.3,240.6 144.7,223.1 145.1,208.0 145.5,198.5 145.9,197.7 146.4,207.5 146.8,223.8 147.2,242.0 147.6,257.4 148.0,265.2 148.4,259.0 148.8,238.8 149.3,216.2 149.7,203.1 150.1,210.2 150.5,233.4 150.9,259.4 151.3,274.5 151.7,267.7 152.1,245.2 152.6,220.1 153.0,205.5 153.4,208.4 153.8,219.7 154.2,235.3 154.6,250.8 155.0,262.1 155.5,265.3 155.9,258.8 156.3,246.0 156.7,231.0 157.1,217.5 157.5,209.4 157.9,209.6 158.4,215.0 158.8,223.9 159.2,234.8 159.6,246.3 160.0,256.9 160.4,265.2 160.8,269.8 161.3,269.8 161.7,267.4 162.1,263.5 162.5,258.6 162.9,253.3 163.3,248.3 163.7,244.1 164.1,241.3 164.6,240.7 165.0,243.5 165.4,248.8 165.8,254.9 166.2,259.9 166.6,261.9 167.0,261.3 167.5,259.5 167.9,257.1 168.3,254.2 168.7,251.4 169.1,248.9 169.5,247.2 169.9,246.5 170.4,247.2 170.8,248.9 171.2,251.1 171.6,253.2 172.0,254.6 172.4,254.7 172.8,253.7 173.3,252.0 173.7,250.1 174.1,248.5 174.5,247.7 174.9,248.7 175.3,252.0 175.7,256.6 176.2,261.2 176.6,264.5 177.0,265.4 177.4,263.7 177.8,260.5 178.2,256.8 178.6,253.7 179.0,252.5 179.5,253.5 179.9,256.4 180.3,260.4 180.7,265.1 181.1,269.9 181.5,274.3 181.9,277.7 182.4,279.5 182.8,279.3 183.2,277.4 183.6,274.4 184.0,271.3 184.4,268.9 184.8,267.9 185.3,267.9 185.7,268.0 186.1,268.1 186.5,268.2 186.9,268.4 187.3,268.6 187.7,268.8 188.2,269.1 188.6,269.7 189.0,271.0 189.4,272.7 189.8,274.7 190.2,276.5 190.6,278.2 191.0,279.3 191.5,279.7 191.9,279.5 192.3,279.0 192.7,278.3 193.1,277.5 193.5,276.7 193.9,275.9 194.4,275.3 194.8,275.0 195.2,275.2 195.6,276.2 196.0,277.6 196.4,279.2 196.8,280.4 197.3,280.9 197.7,280.7 198.1,280.3 198.5,279.7 198.9,279.2 199.3,278.7 199.7,278.5 200.2,278.8 200.6,279.5 201.0,280.3 201.4,281.2 201.8,281.8 202.2,282.1 202.6,282.0 203.0,281.9 203.5,281.7 203.9,281.5 204.3,281.3 204.7,281.1 205.1,281.0 205.5,280.9 205.9,281.0 206.4,281.1 206.8,281.3 207.2,281.5 207.6,281.7 208.0,281.9 208.4,282.0 208.8,282.1 209.3,282.1 209.7,282.1 210.1,282.1 210.5,282.1 210.9,282.1 211.3,282.1 211.7,282.1 212.2,282.1 212.6,282.1 213.0,282.1 213.4,282.1 213.8,282.1 214.2,282.1 214.6,282.1 215.1,282.1 215.5,282.1 215.9,282.1 216.3,282.1 216.7,282.1 217.1,282.1 217.5,282.1 217.9,282.1 218.4,282.1 218.8,282.1 219.2,282.1 219.6,282.1 220.0,282.1 220.4,282.1 220.8,282.1 221.3,282.1 221.7,282.1 222.1,282.1 222.5,282.1 222.9,282.1 223.3,282.1 223.7,282.1 224.2,282.1 224.6,282.1 225.0,282.1 225.4,282.1 225.8,282.1 226.2,282.1 226.6,282.1 227.1,282.1 227.5,282.1 227.9,282.1 228.3,282.1 228.7,282.1 229.1,282.1 229.5,282.1 229.9,282.1 230.4,282.1 230.8,282.1 231.2,282.1 231.6,282.1 232.0,282.1 232.4,282.1 232.8,282.1 233.3,282.1 233.7,282.1 234.1,282.1 234.5,282.1 234.9,282.1 235.3,282.1 235.7,282.1 236.2,282.1 236.6,282.1 237.0,282.1 237.4,282.1 237.8,282.1 238.2,282.1 238.6,282.1 239.1,282.1 239.5,282.1 239.9,282.1 240.3,282.1 240.7,282.1 241.1,282.1 241.5,282.1 241.9,282.1 242.4,282.1 242.8,282.1 243.2,282.1 243.6,282.1 244.0,282.1 244.4,282.1 244.8,282.1 245.3,282.1 245.7,282.1 246.1,282.1 246.5,282.1 246.9,282.1 247.3,282.1 247.7,282.1 248.2,282.1 248.6,282.1 249.0,282.1 249.4,282.1 249.8,282.1 250.2,282.1 250.6,282.1 251.1,282.1 251.5,282.1 251.9,282.1 252.3,282.1 252.7,282.1 253.1,282.1 253.5,282.1 254.0,282.1 254.4,282.1 254.8,282.1 255.2,282.1 255.6,282.1 256.0,282.1 256.4,282.1 256.8,282.1 257.3,282.1 257.7,282.1 258.1,282.1 258.5,282.1 258.9,282.1 259.3,282.1 259.7,282.1 260.2,282.1 260.6,282.1 261.0,282.1 261.4,282.1 261.8,282.1 262.2,282.1 262.6,282.1 263.1,282.1 263.5,282.1 263.9,282.1 264.3,282.1 264.7,282.1 265.1,282.1 265.5,282.1 266.0,282.1 266.4,282.1 266.8,282.1 267.2,282.1 267.6,282.1 268.0,282.1 268.4,282.1" fill="none" stroke="#EDB120" stroke-width="0.6" stroke-linejoin="round" opacity="1.0"/>
<polyline clip-path="url(#cc)" points="40.0,282.1 54.9,282.1 56.6,163.5 58.2,168.2 59.9,172.8 61.5,177.3 63.2,181.7 64.8,186.0 66.5,190.3 68.1,194.4 69.8,198.4 71.5,202.4 73.1,206.2 74.8,209.9 76.4,213.6 78.1,217.2 79.7,220.6 81.4,224.0 83.0,227.3 84.7,230.4 86.3,233.5 88.0,236.5 89.7,239.4 91.3,242.2 93.0,244.9 94.6,247.5 96.3,250.0 97.9,252.5 99.6,254.8 101.2,257.0 102.9,259.1 104.6,261.2 106.2,263.1 107.9,265.0 109.5,266.7 111.2,268.4 112.8,270.0 114.5,271.4 116.1,272.8 117.8,274.1 119.5,275.3 121.1,276.4 122.8,277.4 124.4,278.3 126.1,279.1 127.7,279.8 129.4,280.4 131.0,280.9 132.7,281.3 134.4,281.7 136.0,281.9 137.7,282.1 139.3,187.2 141.0,191.0 142.6,194.7 144.3,198.3 145.9,201.8 147.6,205.2 149.3,208.6 150.9,211.9 152.6,215.2 154.2,218.3 155.9,221.4 157.5,224.4 159.2,227.3 160.8,230.1 162.5,232.9 164.1,235.6 165.8,238.2 167.5,240.8 169.1,243.2 170.8,245.6 172.4,247.9 174.1,250.2 175.7,252.3 177.4,254.4 179.0,256.4 180.7,258.4 182.4,260.2 184.0,262.0 185.7,263.7 187.3,265.4 189.0,266.9 190.6,268.4 192.3,269.8 193.9,271.1 195.6,272.4 197.3,273.6 198.9,274.7 200.6,275.7 202.2,276.6 203.9,277.5 205.5,278.3 207.2,279.0 208.8,279.7 210.5,280.2 212.2,280.7 213.8,281.2 215.5,281.5 217.1,281.8 218.8,281.9 220.4,282.1 222.1,282.1 268.6,282.1" fill="none" stroke="#1C78C8" stroke-width="1.15" stroke-linejoin="round" opacity="1.0"/>
<polyline clip-path="url(#cc)" points="40.0,282.1 40.7,282.0 41.3,281.7 42.0,281.3 42.6,280.6 43.3,279.6 44.0,278.4 44.6,276.9 45.3,274.8 46.0,272.2 46.6,269.4 47.3,266.3 47.9,262.6 48.6,258.6 49.3,254.5 49.9,250.2 50.6,245.6 51.3,240.8 51.9,235.7 52.6,230.1 53.2,224.2 53.9,218.5 54.6,213.4 55.2,208.3 55.9,203.7 56.6,199.8 57.2,196.5 57.9,193.6 58.5,191.2 59.2,189.6 59.9,188.4 60.5,187.3 61.2,186.5 61.9,186.1 62.5,186.1 63.2,186.4 63.8,187.0 64.5,187.7 65.2,188.5 65.8,189.3 66.5,190.4 67.1,191.6 67.8,193.0 68.5,194.5 69.1,196.1 69.8,197.9 70.5,199.9 71.1,202.0 71.8,204.1 72.4,206.1 73.1,207.9 73.8,209.8 74.4,211.5 75.1,213.1 75.8,214.6 76.4,216.0 77.1,217.4 77.7,218.8 78.4,220.2 79.1,221.6 79.7,223.0 80.4,224.3 81.1,225.7 81.7,227.0 82.4,228.3 83.0,229.6 83.7,230.9 84.4,232.2 85.0,233.4 85.7,234.7 86.3,235.9 87.0,237.1 87.7,238.3 88.3,239.5 89.0,240.6 89.7,241.8 90.3,242.9 91.0,244.0 91.6,245.1 92.3,246.2 93.0,247.3 93.6,248.3 94.3,249.4 95.0,250.4 95.6,251.4 96.3,252.4 96.9,253.4 97.6,254.3 98.3,255.3 98.9,256.2 99.6,257.1 100.3,258.0 100.9,258.9 101.6,259.8 102.2,260.7 102.9,261.5 103.6,262.3 104.2,263.2 104.9,263.9 105.6,264.7 106.2,265.5 106.9,266.2 107.5,267.0 108.2,267.7 108.9,268.4 109.5,269.1 110.2,269.8 110.8,270.4 111.5,271.1 112.2,271.7 112.8,272.3 113.5,272.9 114.2,273.5 114.8,274.1 115.5,274.6 116.1,275.2 116.8,275.7 117.5,276.2 118.1,276.7 118.8,277.2 119.5,277.6 120.1,278.2 120.8,278.7 121.4,279.1 122.1,279.2 122.8,279.2 123.4,279.1 124.1,279.0 124.8,279.0 125.4,279.1 126.1,279.2 126.7,279.3 127.4,279.4 128.1,279.4 128.7,279.0 129.4,278.3 130.0,277.4 130.7,276.2 131.4,274.9 132.0,273.1 132.7,270.6 133.4,267.6 134.0,263.8 134.7,258.3 135.3,252.1 136.0,246.4 136.7,241.0 137.3,235.8 138.0,231.0 138.7,226.7 139.3,222.3 140.0,218.3 140.6,214.8 141.3,212.2 142.0,210.3 142.6,208.6 143.3,207.1 144.0,206.0 144.6,205.2 145.3,204.9 145.9,204.6 146.6,204.5 147.3,204.4 147.9,204.7 148.6,205.2 149.3,206.0 149.9,206.9 150.6,207.9 151.2,208.9 151.9,209.9 152.6,211.0 153.2,212.2 153.9,213.4 154.5,214.8 155.2,216.2 155.9,217.7 156.5,219.2 157.2,220.9 157.9,222.7 158.5,224.4 159.2,225.9 159.8,227.1 160.5,228.3 161.2,229.4 161.8,230.5 162.5,231.6 163.2,232.7 163.8,233.8 164.5,234.9 165.1,235.9 165.8,237.0 166.5,238.1 167.1,239.1 167.8,240.1 168.5,241.1 169.1,242.1 169.8,243.1 170.4,244.1 171.1,245.0 171.8,246.0 172.4,246.9 173.1,247.9 173.8,248.8 174.4,249.7 175.1,250.6 175.7,251.4 176.4,252.3 177.1,253.1 177.7,254.0 178.4,254.8 179.0,255.6 179.7,256.4 180.4,257.2 181.0,258.0 181.7,258.8 182.4,259.5 183.0,260.3 183.7,261.0 184.3,261.7 185.0,262.4 185.7,263.1 186.3,263.8 187.0,264.5 187.7,265.1 188.3,265.8 189.0,266.4 189.6,267.0 190.3,267.6 191.0,268.2 191.6,268.8 192.3,269.4 193.0,270.0 193.6,270.5 194.3,271.0 194.9,271.6 195.6,272.1 196.3,272.6 196.9,273.1 197.6,273.5 198.2,274.0 198.9,274.5 199.6,274.9 200.2,275.3 200.9,275.7 201.6,276.1 202.2,276.5 202.9,276.9 203.5,277.3 204.2,277.6 204.9,278.0 205.5,278.3 206.2,278.6 206.9,278.9 207.5,279.2 208.2,279.4 208.8,279.7 209.5,279.9 210.2,280.1 210.8,280.3 211.5,280.5 212.2,280.7 212.8,280.9 213.5,281.1 214.1,281.2 214.8,281.4 215.5,281.5 216.1,281.6 216.8,281.7 217.5,281.8 218.1,281.9 218.8,281.9 219.4,282.0 220.1,282.0 220.8,282.1 221.4,282.1 222.1,282.1 222.7,282.1 223.4,282.1 224.1,282.1 224.7,282.1 225.4,282.1 226.1,282.1 226.7,282.1 227.4,282.1 228.0,282.1 228.7,282.1 229.4,282.1 230.0,282.1 230.7,282.1 231.4,282.1 232.0,282.1 232.7,282.1 233.3,282.1 234.0,282.1 234.7,282.1 235.3,282.1 236.0,282.1 236.7,282.1 237.3,282.1 238.0,282.1 238.6,282.1 239.3,282.1 240.0,282.1 240.6,282.1 241.3,282.1 241.9,282.1 242.6,282.1 243.3,282.1 243.9,282.1 244.6,282.1 245.3,282.1 245.9,282.1 246.6,282.1 247.2,282.1 247.9,282.1 248.6,282.1 249.2,282.1 249.9,282.1 250.6,282.1 251.2,282.1 251.9,282.1 252.5,282.1 253.2,282.1 253.9,282.1 254.5,282.1 255.2,282.1 255.9,282.1 256.5,282.1 257.2,282.1 257.8,282.1 258.5,282.1 259.2,282.1 259.8,282.1 260.5,282.1 261.2,282.1 261.8,282.1 262.5,282.1 263.1,282.1 263.8,282.1 264.5,282.1 265.1,282.1 265.8,282.1 266.4,282.1 267.1,282.1 267.8,282.1 268.4,282.1" fill="none" stroke="#DA5620" stroke-width="1.1" stroke-linejoin="round" opacity="1.0"/>
<rect x="40.0" y="163.5" width="228.60" height="118.60" fill="none" stroke="#c4c4c4" stroke-width="0.9"/>
<path d="M40.00 282.1v-2.0M40.00 163.5v2.0" stroke="#c4c4c4" stroke-width="0.5"/>
<text x="40.00" y="287.50" font-size="4.2" text-anchor="middle" fill="#262626">0</text>
<path d="M73.11 282.1v-2.0M73.11 163.5v2.0" stroke="#c4c4c4" stroke-width="0.5"/>
<text x="73.11" y="287.50" font-size="4.2" text-anchor="middle" fill="#262626">20</text>
<path d="M106.21 282.1v-2.0M106.21 163.5v2.0" stroke="#c4c4c4" stroke-width="0.5"/>
<text x="106.21" y="287.50" font-size="4.2" text-anchor="middle" fill="#262626">40</text>
<path d="M139.32 282.1v-2.0M139.32 163.5v2.0" stroke="#c4c4c4" stroke-width="0.5"/>
<text x="139.32" y="287.50" font-size="4.2" text-anchor="middle" fill="#262626">60</text>
<path d="M172.43 282.1v-2.0M172.43 163.5v2.0" stroke="#c4c4c4" stroke-width="0.5"/>
<text x="172.43" y="287.50" font-size="4.2" text-anchor="middle" fill="#262626">80</text>
<path d="M205.53 282.1v-2.0M205.53 163.5v2.0" stroke="#c4c4c4" stroke-width="0.5"/>
<text x="205.53" y="287.50" font-size="4.2" text-anchor="middle" fill="#262626">100</text>
<path d="M238.64 282.1v-2.0M238.64 163.5v2.0" stroke="#c4c4c4" stroke-width="0.5"/>
<text x="238.64" y="287.50" font-size="4.2" text-anchor="middle" fill="#262626">120</text>
<path d="M40.0 282.10h2.0M268.6 282.10h-2.0" stroke="#c4c4c4" stroke-width="0.5"/>
<text x="38.60" y="283.70" font-size="4.3" text-anchor="end" fill="#262626">0</text>
<path d="M40.0 270.24h2.0M268.6 270.24h-2.0" stroke="#c4c4c4" stroke-width="0.5"/>
<text x="38.60" y="271.84" font-size="4.3" text-anchor="end" fill="#262626">0.1</text>
<path d="M40.0 258.38h2.0M268.6 258.38h-2.0" stroke="#c4c4c4" stroke-width="0.5"/>
<text x="38.60" y="259.98" font-size="4.3" text-anchor="end" fill="#262626">0.2</text>
<path d="M40.0 246.52h2.0M268.6 246.52h-2.0" stroke="#c4c4c4" stroke-width="0.5"/>
<text x="38.60" y="248.12" font-size="4.3" text-anchor="end" fill="#262626">0.3</text>
<path d="M40.0 234.66h2.0M268.6 234.66h-2.0" stroke="#c4c4c4" stroke-width="0.5"/>
<text x="38.60" y="236.26" font-size="4.3" text-anchor="end" fill="#262626">0.4</text>
<path d="M40.0 222.80h2.0M268.6 222.80h-2.0" stroke="#c4c4c4" stroke-width="0.5"/>
<text x="38.60" y="224.40" font-size="4.3" text-anchor="end" fill="#262626">0.5</text>
<path d="M40.0 210.94h2.0M268.6 210.94h-2.0" stroke="#c4c4c4" stroke-width="0.5"/>
<text x="38.60" y="212.54" font-size="4.3" text-anchor="end" fill="#262626">0.6</text>
<path d="M40.0 199.08h2.0M268.6 199.08h-2.0" stroke="#c4c4c4" stroke-width="0.5"/>
<text x="38.60" y="200.68" font-size="4.3" text-anchor="end" fill="#262626">0.7</text>
<path d="M40.0 187.22h2.0M268.6 187.22h-2.0" stroke="#c4c4c4" stroke-width="0.5"/>
<text x="38.60" y="188.82" font-size="4.3" text-anchor="end" fill="#262626">0.8</text>
<path d="M40.0 175.36h2.0M268.6 175.36h-2.0" stroke="#c4c4c4" stroke-width="0.5"/>
<text x="38.60" y="176.96" font-size="4.3" text-anchor="end" fill="#262626">0.9</text>
<path d="M40.0 163.50h2.0M268.6 163.50h-2.0" stroke="#c4c4c4" stroke-width="0.5"/>
<text x="38.60" y="165.10" font-size="4.3" text-anchor="end" fill="#262626">1</text>
<text x="152.20" y="158.30" font-size="7.25" font-weight="bold" text-anchor="middle" fill="#111" stroke="#111" stroke-width="0.12">PSD C (quadratic character)</text>
<text x="154.00" y="293.60" font-size="4.3" text-anchor="middle" fill="#262626">Frequency</text>
<text x="154.00" y="298.60" font-size="4.2" text-anchor="middle" fill="#262626">[Hz]</text>
<text transform="translate(24.10,222.80) rotate(-90)" font-size="4.5" text-anchor="middle" fill="#262626">PSD</text>
<text transform="translate(30.70,222.80) rotate(-90)" font-size="4.5" text-anchor="middle" fill="#262626">[MPa<tspan font-size="3" dy="-1.5">2</tspan><tspan dy="1.5">/Hz]</tspan></text>
<text x="4.6" y="299.90000000000003" font-size="8.1" fill="#222" stroke="#222" stroke-width="0.15">(c)</text>
<clipPath id="cd"><rect x="313.2" y="162.4" width="229.50000000000006" height="120.4"/></clipPath>
<polygon clip-path="url(#cd)" points="313.5,282.6 313.6,240.0 314.1,200.0 314.4,193.0 314.9,192.0 315.2,165.2 317.2,165.2 317.3,192.0 317.5,196.0 317.7,215.0 318.0,235.0 318.8,245.8 319.6,256.6 320.3,262.5 321.2,267.4 322.9,272.8 324.4,276.0 326.1,278.2 328.0,279.8 329.9,280.8 332.0,281.4 334.7,281.6 535.0,281.6 535.0,282.6" fill="#EEB22E"/>
<line x1="316.0" y1="250" x2="316.0" y2="281.4" stroke="#F8E0A8" stroke-width="0.45" opacity="0.9"/>
<line x1="318.4" y1="258" x2="318.4" y2="281.4" stroke="#F8E0A8" stroke-width="0.45" opacity="0.9"/>
<line x1="319.3" y1="262" x2="319.3" y2="281.4" stroke="#F8E0A8" stroke-width="0.45" opacity="0.9"/>
<line x1="320.4" y1="266" x2="320.4" y2="281.4" stroke="#F8E0A8" stroke-width="0.45" opacity="0.9"/>
<line x1="321.3" y1="270" x2="321.3" y2="281.4" stroke="#F8E0A8" stroke-width="0.45" opacity="0.9"/>
<line x1="322.2" y1="272" x2="322.2" y2="281.4" stroke="#F8E0A8" stroke-width="0.45" opacity="0.9"/>
<line x1="323.1" y1="274.5" x2="323.1" y2="281.4" stroke="#F8E0A8" stroke-width="0.45" opacity="0.9"/>
<line x1="324.2" y1="276.5" x2="324.2" y2="281.4" stroke="#F8E0A8" stroke-width="0.45" opacity="0.9"/>
<line x1="325.4" y1="277.8" x2="325.4" y2="281.4" stroke="#F8E0A8" stroke-width="0.45" opacity="0.9"/>
<line x1="326.6" y1="279" x2="326.6" y2="281.4" stroke="#F8E0A8" stroke-width="0.45" opacity="0.9"/>
<line x1="328.0" y1="279.8" x2="328.0" y2="281.4" stroke="#F8E0A8" stroke-width="0.45" opacity="0.9"/>
<line x1="330.2" y1="280.6" x2="330.2" y2="281.4" stroke="#F8E0A8" stroke-width="0.45" opacity="0.9"/>
<line x1="332.5" y1="281.2" x2="332.5" y2="281.4" stroke="#F8E0A8" stroke-width="0.45" opacity="0.9"/>
<polyline clip-path="url(#cd)" points="340.9,281.8 341.5,281.8 342.0,281.6 342.6,281.0 343.1,281.7 343.7,281.6 344.2,281.7 344.8,281.5 345.3,281.1 345.9,281.1 346.4,281.7 347.0,281.8 347.5,281.1 348.1,281.6 348.7,281.4 349.2,282.0 349.8,281.1 350.3,281.8 350.9,281.6 351.4,281.9 352.0,281.7 352.5,281.2 353.1,281.2 353.6,281.6 354.2,281.3 354.8,281.6 355.3,281.7 355.9,281.5 356.4,281.9 357.0,281.8 357.5,281.3 358.1,281.3 358.6,282.1 359.2,281.3 359.7,281.2 360.3,281.6 360.8,282.1 361.4,281.4 362.0,281.9 362.5,281.4 363.1,281.7 363.6,281.4 364.2,281.8 364.7,281.6 365.3,281.5 365.8,281.4 366.4,281.9 366.9,281.0 367.5,281.8 368.0,281.8 368.6,281.8 369.2,282.1 369.7,281.7 370.3,281.3 370.8,281.3 371.4,281.9 371.9,282.0 372.5,281.8 373.0,281.3 373.6,281.6 374.1,281.1 374.7,281.4 375.2,281.4 375.8,281.3 376.4,281.3 376.9,281.7 377.5,281.8 378.0,281.6 378.6,281.6 379.1,282.0 379.7,281.6 380.2,281.4 380.8,282.0 381.3,282.0 381.9,281.9 382.4,281.8 383.0,281.0 383.6,282.1 384.1,281.9 384.7,281.9 385.2,281.6 385.8,282.1 386.3,281.6 386.9,281.9 387.4,281.8 388.0,281.2 388.5,281.9 389.1,281.4 389.7,281.7 390.2,281.7 390.8,281.2 391.3,281.9 391.9,281.1 392.4,281.1 393.0,281.4 393.5,282.1 394.1,281.4 394.6,281.5 395.2,281.3 395.7,281.9 396.3,281.1 396.9,281.1 397.4,282.0 398.0,281.8 398.5,282.1 399.1,281.2 399.6,281.1 400.2,281.0 400.7,281.4 401.3,281.4 401.8,281.4 402.4,281.5 402.9,281.1 403.5,281.4 404.1,281.8 404.6,281.5 405.2,282.1 405.7,281.3 406.3,281.3 406.8,281.7 407.4,281.2 407.9,281.3 408.5,281.7 409.0,282.0 409.6,282.0 410.1,281.9 410.7,281.8 411.3,281.6 411.8,281.1 412.4,281.8 412.9,281.1 413.5,281.4 414.0,281.2 414.6,281.7 415.1,282.1 415.7,281.2 416.2,281.9 416.8,282.0 417.4,281.2 417.9,281.4 418.5,281.9 419.0,281.8 419.6,281.1 420.1,281.8 420.7,281.3 421.2,282.0 421.8,281.2 422.3,282.0 422.9,281.5 423.4,282.1 424.0,281.5 424.6,281.2 425.1,282.0 425.7,281.8 426.2,281.3 426.8,281.4 427.3,281.8 427.9,281.4 428.4,281.6 429.0,281.2 429.5,281.8 430.1,281.3 430.6,281.4 431.2,281.3 431.8,281.7 432.3,281.3 432.9,281.3 433.4,281.7 434.0,282.1 434.5,281.0 435.1,281.3 435.6,281.9 436.2,281.3 436.7,281.8 437.3,281.6 437.8,281.2 438.4,281.6 439.0,281.8 439.5,281.8 440.1,282.0 440.6,281.9 441.2,281.8 441.7,281.9 442.3,282.1 442.8,281.6 443.4,281.9 443.9,281.3 444.5,281.1 445.1,281.8 445.6,281.5 446.2,281.6 446.7,282.0 447.3,282.0 447.8,281.1 448.4,281.6 448.9,281.2 449.5,282.1 450.0,281.5 450.6,281.2 451.1,281.1 451.7,282.1 452.3,281.5 452.8,281.7 453.4,281.3 453.9,282.0 454.5,281.8 455.0,281.2 455.6,281.6 456.1,281.6 456.7,281.0 457.2,281.8 457.8,282.1 458.3,281.7 458.9,282.0 459.5,282.0 460.0,281.5 460.6,281.1 461.1,281.5 461.7,281.4 462.2,281.8 462.8,281.5 463.3,281.3 463.9,281.5 464.4,281.2 465.0,281.5 465.5,281.9 466.1,281.5 466.7,281.6 467.2,281.9 467.8,281.4 468.3,281.2 468.9,282.0 469.4,281.5 470.0,281.3 470.5,281.7 471.1,281.8 471.6,281.7 472.2,281.5 472.8,281.4 473.3,281.5 473.9,282.0 474.4,281.2 475.0,281.1 475.5,282.0 476.1,281.8 476.6,281.9 477.2,281.2 477.7,281.1 478.3,282.1 478.8,281.8 479.4,281.9 480.0,281.6 480.5,281.1 481.1,282.1 481.6,281.9 482.2,281.6 482.7,281.5 483.3,281.3 483.8,281.6 484.4,282.0 484.9,281.7 485.5,281.0 486.0,281.3 486.6,282.0 487.2,281.2 487.7,281.8 488.3,281.2 488.8,282.1 489.4,281.1 489.9,281.9 490.5,281.6 491.0,281.4 491.6,281.6 492.1,281.9 492.7,282.0 493.2,281.8 493.8,282.1 494.4,281.9 494.9,282.0 495.5,281.6 496.0,281.7 496.6,281.5 497.1,281.8 497.7,282.1 498.2,281.8 498.8,281.3 499.3,281.8 499.9,281.7 500.5,281.3 501.0,281.7 501.6,281.1 502.1,281.1 502.7,281.8 503.2,281.3 503.8,281.8 504.3,282.0 504.9,281.6 505.4,281.4 506.0,281.1 506.5,282.0 507.1,281.3 507.7,281.6 508.2,282.0 508.8,281.0 509.3,281.3 509.9,282.0 510.4,281.1 511.0,282.0 511.5,282.0 512.1,281.8 512.6,281.1 513.2,282.1 513.7,281.1 514.3,281.4 514.9,282.1 515.4,281.5 516.0,281.6 516.5,281.5 517.1,281.3 517.6,281.4 518.2,281.0 518.7,282.0 519.3,281.2 519.8,281.7 520.4,281.2 520.9,281.1 521.5,281.0 522.1,281.8 522.6,281.6 523.2,281.1 523.7,281.1 524.3,281.7 524.8,281.1 525.4,281.7 525.9,281.7 526.5,281.3 527.0,281.6 527.6,281.6 528.2,281.7 528.7,281.6 529.3,282.0 529.8,282.1 530.4,281.3 530.9,281.5 531.5,281.4 532.0,281.2 532.6,281.9 533.1,281.9 533.7,281.8 534.2,281.8" fill="none" stroke="#EFB230" stroke-width="0.6" stroke-linejoin="round" opacity="1.0"/>
<polyline clip-path="url(#cd)" points="317.3,196.0 317.7,215.0 318.0,235.0 318.8,245.8 319.6,256.6 320.3,262.5 321.2,267.4 322.9,272.8 324.4,276.0 326.1,278.2 328.0,279.8 329.9,280.8 332.0,281.4 334.7,281.6 535.0,281.6" fill="none" stroke="#DA5620" stroke-width="0.8" stroke-linejoin="round" opacity="1.0"/>
<polyline clip-path="url(#cd)" points="334.7,281.9 535.0,281.9" fill="none" stroke="#EEAF2C" stroke-width="1.4" stroke-linejoin="round" opacity="1.0"/>
<path d="M313.7 282.2V236" stroke="#E3782E" stroke-width="0.5"/>
<rect x="313.2" y="163.4" width="229.50" height="118.90" fill="none" stroke="#c4c4c4" stroke-width="0.9"/>
<path d="M313.20 282.3v-2.0M313.20 163.4v2.0" stroke="#c4c4c4" stroke-width="0.5"/>
<text x="313.20" y="287.70" font-size="4.2" text-anchor="middle" fill="#262626">0</text>
<path d="M335.36 282.3v-2.0M335.36 163.4v2.0" stroke="#c4c4c4" stroke-width="0.5"/>
<text x="335.36" y="287.70" font-size="4.2" text-anchor="middle" fill="#262626">200</text>
<path d="M357.52 282.3v-2.0M357.52 163.4v2.0" stroke="#c4c4c4" stroke-width="0.5"/>
<text x="357.52" y="287.70" font-size="4.2" text-anchor="middle" fill="#262626">400</text>
<path d="M379.68 282.3v-2.0M379.68 163.4v2.0" stroke="#c4c4c4" stroke-width="0.5"/>
<text x="379.68" y="287.70" font-size="4.2" text-anchor="middle" fill="#262626">600</text>
<path d="M401.84 282.3v-2.0M401.84 163.4v2.0" stroke="#c4c4c4" stroke-width="0.5"/>
<text x="401.84" y="287.70" font-size="4.2" text-anchor="middle" fill="#262626">800</text>
<path d="M424.00 282.3v-2.0M424.00 163.4v2.0" stroke="#c4c4c4" stroke-width="0.5"/>
<text x="424.00" y="287.70" font-size="4.2" text-anchor="middle" fill="#262626">1000</text>
<path d="M446.16 282.3v-2.0M446.16 163.4v2.0" stroke="#c4c4c4" stroke-width="0.5"/>
<text x="446.16" y="287.70" font-size="4.2" text-anchor="middle" fill="#262626">1200</text>
<path d="M468.32 282.3v-2.0M468.32 163.4v2.0" stroke="#c4c4c4" stroke-width="0.5"/>
<text x="468.32" y="287.70" font-size="4.2" text-anchor="middle" fill="#262626">1400</text>
<path d="M490.48 282.3v-2.0M490.48 163.4v2.0" stroke="#c4c4c4" stroke-width="0.5"/>
<text x="490.48" y="287.70" font-size="4.2" text-anchor="middle" fill="#262626">1600</text>
<path d="M512.64 282.3v-2.0M512.64 163.4v2.0" stroke="#c4c4c4" stroke-width="0.5"/>
<text x="512.64" y="287.70" font-size="4.2" text-anchor="middle" fill="#262626">1800</text>
<path d="M534.80 282.3v-2.0M534.80 163.4v2.0" stroke="#c4c4c4" stroke-width="0.5"/>
<text x="534.80" y="287.70" font-size="4.2" text-anchor="middle" fill="#262626">2000</text>
<path d="M313.2 272.31h2.0M542.7 272.31h-2.0" stroke="#c4c4c4" stroke-width="0.5"/>
<text x="311.80" y="273.91" font-size="4.3" text-anchor="end" fill="#262626">5</text>
<path d="M313.2 259.72h2.0M542.7 259.72h-2.0" stroke="#c4c4c4" stroke-width="0.5"/>
<text x="311.80" y="261.32" font-size="4.3" text-anchor="end" fill="#262626">10</text>
<path d="M313.2 247.13h2.0M542.7 247.13h-2.0" stroke="#c4c4c4" stroke-width="0.5"/>
<text x="311.80" y="248.73" font-size="4.3" text-anchor="end" fill="#262626">15</text>
<path d="M313.2 234.54h2.0M542.7 234.54h-2.0" stroke="#c4c4c4" stroke-width="0.5"/>
<text x="311.80" y="236.14" font-size="4.3" text-anchor="end" fill="#262626">20</text>
<path d="M313.2 221.96h2.0M542.7 221.96h-2.0" stroke="#c4c4c4" stroke-width="0.5"/>
<text x="311.80" y="223.56" font-size="4.3" text-anchor="end" fill="#262626">25</text>
<path d="M313.2 209.37h2.0M542.7 209.37h-2.0" stroke="#c4c4c4" stroke-width="0.5"/>
<text x="311.80" y="210.97" font-size="4.3" text-anchor="end" fill="#262626">30</text>
<path d="M313.2 196.78h2.0M542.7 196.78h-2.0" stroke="#c4c4c4" stroke-width="0.5"/>
<text x="311.80" y="198.38" font-size="4.3" text-anchor="end" fill="#262626">35</text>
<path d="M313.2 184.19h2.0M542.7 184.19h-2.0" stroke="#c4c4c4" stroke-width="0.5"/>
<text x="311.80" y="185.79" font-size="4.3" text-anchor="end" fill="#262626">40</text>
<path d="M313.2 171.60h2.0M542.7 171.60h-2.0" stroke="#c4c4c4" stroke-width="0.5"/>
<text x="311.80" y="173.20" font-size="4.3" text-anchor="end" fill="#262626">45</text>
<text x="428.50" y="158.20" font-size="7.25" font-weight="bold" text-anchor="middle" fill="#111" stroke="#111" stroke-width="0.12">PSD D (defined in ISO 16750-3)</text>
<text x="427.80" y="293.80" font-size="4.3" text-anchor="middle" fill="#262626">Frequency</text>
<text x="427.80" y="299.20" font-size="4.2" text-anchor="middle" fill="#262626">[Hz]</text>
<text transform="translate(298.90,222.85) rotate(-90)" font-size="4.5" text-anchor="middle" fill="#262626">PSD</text>
<text transform="translate(305.10,222.85) rotate(-90)" font-size="4.5" text-anchor="middle" fill="#262626">[MPa<tspan font-size="3" dy="-1.5">2</tspan><tspan dy="1.5">/Hz]</tspan></text>
<text x="280.0" y="299.7" font-size="8.1" fill="#222" stroke="#222" stroke-width="0.15">(d)</text>
<clipPath id="ce"><rect x="38.5" y="318.4" width="230.89999999999998" height="120.5"/></clipPath>
<polyline clip-path="url(#ce)" points="38.5,335.8 39.3,335.8 40.1,335.8 40.8,335.8 41.6,335.8 42.4,335.8 43.2,335.8 43.9,335.8 44.7,335.8 45.5,335.8 46.3,335.8 47.0,335.8 47.8,335.8 48.6,335.8 49.4,335.8 50.1,335.8 50.9,335.8 51.7,335.8 52.5,335.8 53.3,335.8 54.0,335.8 54.8,335.8 55.6,335.8 56.4,335.8 57.1,335.8 57.9,335.8 58.7,335.8 59.5,335.8 60.2,335.8 61.0,335.8 61.8,335.8 62.6,335.8 63.3,335.8 64.1,335.8 64.9,335.8 65.7,335.8 66.4,335.8 67.2,335.8 68.0,335.8 68.8,335.8 69.6,335.8 70.3,335.8 71.1,335.8 71.9,335.8 72.7,335.8 73.4,335.8 74.2,335.8 75.0,335.8 75.8,335.8 76.5,335.8 77.3,335.8 78.1,335.8 78.9,335.8 79.6,335.8 80.4,335.8 81.2,335.8 82.0,335.8 82.8,335.8 83.5,335.8 84.3,335.8 85.1,335.8 85.9,335.8 86.6,335.8 87.4,335.8 88.2,335.8 89.0,335.8 89.7,335.8 90.5,335.8 91.3,335.8 92.1,335.8 92.8,335.8 93.6,335.8 94.4,335.8 95.2,335.8 96.0,335.8 96.7,335.8 97.5,335.8 98.3,335.8 99.1,335.8 99.8,335.8 100.6,335.8 101.4,335.8 102.2,335.8 102.9,335.8 103.7,335.8 104.5,335.8 105.3,335.8 106.0,335.8 106.8,335.8 107.6,335.8 108.4,335.8 109.1,335.8 109.9,335.8 110.7,335.8 111.5,335.8 112.3,335.8 113.0,335.8 113.8,335.8 114.6,335.8 115.4,335.8 116.1,335.8 116.9,335.8 117.7,335.8 118.5,335.8 119.2,335.8 120.0,335.8 120.8,335.8 121.6,335.8 122.3,335.8 123.1,335.8 123.9,335.8 124.7,335.8 125.5,335.8 126.2,335.8 127.0,335.8 127.8,335.8 128.6,335.8 129.3,335.8 130.1,335.8 130.9,335.8 131.7,335.8 132.4,335.8 133.2,335.8 134.0,335.8 134.8,335.8 135.5,335.8 136.3,335.8 137.1,335.8 137.9,335.8 138.7,335.8 139.4,335.8 140.2,335.8 141.0,335.8 141.8,335.8 142.5,335.8 143.3,335.8 144.1,335.8 144.9,335.8 145.6,335.8 146.4,335.8 147.2,335.8 148.0,335.8 148.7,335.8 149.5,335.8 150.3,335.8 151.1,335.8 151.8,335.8 152.6,335.8 153.4,335.8 154.2,335.8 155.0,335.8 155.7,335.8 156.5,335.8 157.3,335.8 158.1,335.8 158.8,335.8 159.6,335.8 160.4,335.8 161.2,335.8 161.9,335.8 162.7,335.8 163.5,335.8 164.3,335.8 165.0,335.8 165.8,335.8 166.6,335.8 167.4,335.8 168.2,335.8 168.9,335.8 169.7,335.8 170.5,335.8 171.3,335.8 172.0,335.8 172.8,335.8 173.6,335.8 174.4,335.8 175.1,335.8 175.9,335.8 176.7,335.8 177.5,335.8 178.2,335.8 179.0,335.8 179.8,335.8 180.6,335.8 181.3,336.2 182.1,336.5 182.9,336.9 183.7,337.3 184.5,337.6 185.2,338.0 186.0,338.4 186.8,338.7 187.6,339.1 188.3,339.5 189.1,339.8 189.9,340.2 190.7,340.6 191.4,340.9 192.2,341.3 193.0,341.7 193.8,342.0 194.5,342.4 195.3,342.8 196.1,343.1 196.9,343.5 197.7,343.9 198.4,344.2 199.2,344.6 200.0,344.9 200.8,345.3 201.5,345.7 202.3,346.0 203.1,346.4 203.9,346.8 204.6,347.1 205.4,347.5 206.2,347.9 207.0,348.2 207.7,348.6 208.5,349.0 209.3,349.3 210.1,349.7 210.9,350.1 211.6,350.4 212.4,350.8 213.2,351.2 214.0,351.5 214.7,351.9 215.5,352.3 216.3,352.6 217.1,353.0 217.8,353.4 218.6,353.7 219.4,354.1 220.2,354.5 220.9,354.8 221.7,355.2 222.5,355.6 223.3,355.9 224.0,356.3 224.8,356.7 225.6,357.0 226.4,357.4 227.2,357.7 227.9,358.1 228.7,358.5 229.5,358.8 230.3,359.2 231.0,359.6 231.8,359.9 232.6,360.3 233.4,360.7 234.1,361.0 234.9,361.4 235.7,361.8 236.5,362.1 237.2,362.5 238.0,362.9 238.8,363.2 239.6,363.6 240.4,364.0 241.1,364.3 241.9,364.7 242.7,365.1 243.5,365.4 244.2,365.8 245.0,366.2 245.8,366.5 246.6,366.9 247.3,367.3 248.1,367.6 248.9,368.0 249.7,368.4 250.4,368.7 251.2,369.1 252.0,369.4 252.8,369.8 253.6,370.2 254.3,370.5 255.1,370.9 255.9,371.3 256.7,371.6 257.4,372.0 258.2,372.4 259.0,372.7 259.8,373.1 260.5,373.5 261.3,373.8 262.1,374.2 262.9,374.6 263.6,374.9 264.4,375.3 265.2,375.7 266.0,376.0 266.7,376.4 267.5,376.8 268.3,377.1 269.1,377.5 269.9,377.9 270.6,378.2" fill="none" stroke="#1C78C8" stroke-width="1.15" stroke-linejoin="round" opacity="1.0"/>
<polyline clip-path="url(#ce)" points="38.5,338.7 70.8,348.7 89.7,341.2 103.2,381.9 113.6,338.5 122.1,338.5 129.3,359.5 135.5,363.5 141.0,378.4 145.9,333.3 150.3,339.2 154.4,379.6 158.1,336.5 161.6,335.2 164.8,342.0 167.8,421.4 170.7,355.0 173.3,335.2 175.8,336.5 178.2,336.5 180.5,352.7 182.7,411.9 184.7,339.0 186.7,347.3 188.6,385.0 190.5,344.6 192.2,368.9 193.9,346.0 195.6,368.9 197.1,348.7 198.7,345.2 200.2,392.6 201.6,363.6 203.0,350.7 204.3,394.5 205.6,382.2 206.9,347.9 208.2,351.8 209.4,348.1 210.6,348.0 211.7,349.7 212.8,374.2 213.9,351.5 215.0,358.6 216.1,350.3 217.1,355.9 218.1,353.9 219.1,366.2 220.0,397.1 221.0,378.1 221.9,353.3 222.8,419.5 223.7,355.4 224.6,354.0 225.4,422.6 226.3,360.6 227.1,387.5 227.9,382.3 228.7,377.5 229.5,357.1 230.2,421.7 231.0,360.0 231.7,416.4 232.5,362.7 233.2,358.9 233.9,405.5 234.6,366.2 235.3,363.8 236.0,423.7 236.7,381.4 237.3,367.4 238.0,364.4 238.6,377.1 239.3,369.9 239.9,424.1 240.5,364.3 241.1,361.7 241.7,363.8 242.3,366.9 242.9,370.9 243.5,393.1 244.0,367.7 244.6,380.5 245.2,369.0 245.7,407.1 246.3,368.1 246.8,373.2 247.3,387.7 247.9,372.6 248.4,371.9 248.9,367.3 249.4,365.7 249.9,367.6 250.4,375.1 250.9,366.8 251.4,372.7 251.9,395.5 252.4,411.8 252.8,371.9 253.3,418.8 253.8,433.0 254.2,372.4 254.7,376.1 255.1,427.8 255.6,423.4 256.0,374.3 256.5,369.4 256.9,374.1 257.3,372.6 257.7,398.6 258.2,370.6 258.6,378.9 259.0,378.4 259.4,371.9 259.8,372.4 260.2,378.8 260.6,375.7 261.0,414.7 261.4,392.9 261.8,430.8 262.2,372.9 262.6,401.2 263.0,397.1 263.3,376.1 263.7,374.2 264.1,375.2 264.4,377.0 264.8,375.1 265.2,375.9 265.5,376.8 265.9,381.5 266.2,374.4 266.6,435.0 267.0,405.3 267.3,374.1 267.6,400.7 268.0,415.3 268.3,377.4 268.7,434.6 269.0,380.0 269.3,419.9 269.7,379.1 270.0,378.9 270.3,376.5 270.6,382.7" fill="none" stroke="#EDB120" stroke-width="0.6" stroke-linejoin="round" opacity="1.0"/>
<polyline clip-path="url(#ce)" points="38.5,334.3 39.3,334.3 40.1,334.3 40.8,334.3 41.6,334.3 42.4,334.3 43.2,334.3 43.9,334.3 44.7,334.3 45.5,334.3 46.3,334.3 47.0,334.3 47.8,334.3 48.6,334.3 49.4,334.3 50.1,334.3 50.9,334.3 51.7,334.3 52.5,334.3 53.3,334.3 54.0,334.3 54.8,334.3 55.6,334.3 56.4,334.3 57.1,334.3 57.9,334.3 58.7,334.3 59.5,334.3 60.2,334.3 61.0,334.3 61.8,334.3 62.6,334.3 63.3,334.3 64.1,334.3 64.9,334.3 65.7,334.3 66.4,334.3 67.2,334.3 68.0,334.3 68.8,334.3 69.6,334.3 70.3,334.3 71.1,334.3 71.9,334.3 72.7,334.3 73.4,334.3 74.2,334.3 75.0,334.3 75.8,334.3 76.5,334.3 77.3,334.3 78.1,334.3 78.9,334.3 79.6,334.3 80.4,334.3 81.2,334.3 82.0,334.3 82.8,334.3 83.5,334.3 84.3,334.3 85.1,334.3 85.9,334.3 86.6,334.3 87.4,334.3 88.2,334.3 89.0,334.3 89.7,334.3 90.5,334.3 91.3,334.3 92.1,334.3 92.8,334.3 93.6,334.3 94.4,334.3 95.2,334.3 96.0,334.3 96.7,334.3 97.5,334.3 98.3,334.3 99.1,334.3 99.8,334.3 100.6,334.3 101.4,334.3 102.2,334.3 102.9,334.3 103.7,334.3 104.5,334.3 105.3,334.3 106.0,334.3 106.8,334.3 107.6,334.3 108.4,334.3 109.1,334.3 109.9,334.3 110.7,334.3 111.5,334.3 112.3,334.3 113.0,334.3 113.8,334.3 114.6,334.3 115.4,334.3 116.1,334.3 116.9,334.3 117.7,334.3 118.5,334.3 119.2,334.3 120.0,334.3 120.8,334.3 121.6,334.3 122.3,334.3 123.1,334.3 123.9,334.3 124.7,334.3 125.5,334.3 126.2,334.3 127.0,334.3 127.8,334.3 128.6,334.3 129.3,334.3 130.1,334.3 130.9,334.3 131.7,334.3 132.4,334.3 133.2,334.3 134.0,334.3 134.8,334.3 135.5,334.3 136.3,334.3 137.1,334.3 137.9,334.3 138.7,334.3 139.4,334.3 140.2,334.3 141.0,334.3 141.8,334.3 142.5,334.3 143.3,334.3 144.1,334.3 144.9,334.3 145.6,334.3 146.4,334.3 147.2,334.3 148.0,334.3 148.7,334.3 149.5,334.3 150.3,334.3 151.1,334.3 151.8,334.3 152.6,334.3 153.4,334.3 154.2,334.3 155.0,334.3 155.7,334.3 156.5,334.3 157.3,334.3 158.1,334.3 158.8,334.3 159.6,334.3 160.4,334.3 161.2,334.3 161.9,334.3 162.7,334.3 163.5,334.3 164.3,334.3 165.0,334.3 165.8,334.3 166.6,334.3 167.4,334.3 168.2,334.3 168.9,334.3 169.7,334.3 170.5,334.3 171.3,334.3 172.0,334.3 172.8,334.3 173.6,334.3 174.4,334.3 175.1,334.3 175.9,334.4 176.7,334.4 177.5,334.5 178.2,334.6 179.0,334.7 179.8,334.8 180.6,335.0 181.3,335.2 182.1,335.4 182.9,335.7 183.7,336.0 184.5,336.3 185.2,336.6 186.0,336.9 186.8,337.3 187.6,337.6 188.3,338.0 189.1,338.3 189.9,338.7 190.7,339.0 191.4,339.4 192.2,339.8 193.0,340.1 193.8,340.5 194.5,340.9 195.3,341.2 196.1,341.6 196.9,342.0 197.7,342.3 198.4,342.7 199.2,343.1 200.0,343.4 200.8,343.8 201.5,344.2 202.3,344.5 203.1,344.9 203.9,345.3 204.6,345.6 205.4,346.0 206.2,346.4 207.0,346.7 207.7,347.1 208.5,347.5 209.3,347.8 210.1,348.2 210.9,348.6 211.6,348.9 212.4,349.3 213.2,349.7 214.0,350.0 214.7,350.4 215.5,350.7 216.3,351.1 217.1,351.5 217.8,351.8 218.6,352.2 219.4,352.6 220.2,352.9 220.9,353.3 221.7,353.7 222.5,354.0 223.3,354.4 224.0,354.8 224.8,355.1 225.6,355.5 226.4,355.9 227.2,356.2 227.9,356.6 228.7,357.0 229.5,357.3 230.3,357.7 231.0,358.1 231.8,358.4 232.6,358.8 233.4,359.2 234.1,359.5 234.9,359.9 235.7,360.3 236.5,360.6 237.2,361.0 238.0,361.4 238.8,361.7 239.6,362.1 240.4,362.4 241.1,362.8 241.9,363.2 242.7,363.5 243.5,363.9 244.2,364.3 245.0,364.6 245.8,365.0 246.6,365.4 247.3,365.7 248.1,366.1 248.9,366.5 249.7,366.8 250.4,367.2 251.2,367.6 252.0,367.9 252.8,368.3 253.6,368.7 254.3,369.0 255.1,369.4 255.9,369.8 256.7,370.1 257.4,370.5 258.2,370.9 259.0,371.2 259.8,371.6 260.5,372.0 261.3,372.3 262.1,372.7 262.9,373.0 263.6,373.4 264.4,373.7 265.2,374.1 266.0,374.4 266.7,374.7 267.5,375.0 268.3,375.3 269.1,375.6 269.9,375.8 270.6,376.0" fill="none" stroke="#DA5620" stroke-width="1.1" stroke-linejoin="round" opacity="1.0"/>
<rect x="38.5" y="319.4" width="230.90" height="119.00" fill="none" stroke="#c4c4c4" stroke-width="0.9"/>
<path d="M38.50 438.4v-2.0M38.50 319.4v2.0" stroke="#c4c4c4" stroke-width="0.5"/>
<text x="38.50" y="445.00" font-size="4.2" text-anchor="middle" fill="#262626">10<tspan font-size="3" dy="-1.6">0</tspan></text>
<path d="M145.90 438.4v-2.0M145.90 319.4v2.0" stroke="#c4c4c4" stroke-width="0.5"/>
<text x="145.90" y="445.00" font-size="4.2" text-anchor="middle" fill="#262626">10<tspan font-size="3" dy="-1.6">1</tspan></text>
<path d="M253.30 438.4v-2.0M253.30 319.4v2.0" stroke="#c4c4c4" stroke-width="0.5"/>
<text x="253.30" y="445.00" font-size="4.2" text-anchor="middle" fill="#262626">10<tspan font-size="3" dy="-1.6">2</tspan></text>
<path d="M70.83 438.4v-1.3M70.83 319.4v1.3M89.74 438.4v-1.3M89.74 319.4v1.3M103.16 438.4v-1.3M103.16 319.4v1.3M113.57 438.4v-1.3M113.57 319.4v1.3M122.07 438.4v-1.3M122.07 319.4v1.3M129.26 438.4v-1.3M129.26 319.4v1.3M135.49 438.4v-1.3M135.49 319.4v1.3M140.99 438.4v-1.3M140.99 319.4v1.3M178.23 438.4v-1.3M178.23 319.4v1.3M197.14 438.4v-1.3M197.14 319.4v1.3M210.56 438.4v-1.3M210.56 319.4v1.3M220.97 438.4v-1.3M220.97 319.4v1.3M229.47 438.4v-1.3M229.47 319.4v1.3M236.66 438.4v-1.3M236.66 319.4v1.3M242.89 438.4v-1.3M242.89 319.4v1.3M248.39 438.4v-1.3M248.39 319.4v1.3M257.75 438.4v-1.3M257.75 319.4v1.3M261.80 438.4v-1.3M261.80 319.4v1.3M265.54 438.4v-1.3M265.54 319.4v1.3M268.99 438.4v-1.3M268.99 319.4v1.3" stroke="#b4b4b4" stroke-width="0.45"/>
<path d="M38.5 435.01h1.3M269.4 435.01h-1.3M38.5 433.22h1.3M269.4 433.22h-1.3M38.5 431.68h1.3M269.4 431.68h-1.3M38.5 430.32h1.3M269.4 430.32h-1.3M38.5 421.09h1.3M269.4 421.09h-1.3M38.5 416.40h1.3M269.4 416.40h-1.3M38.5 413.07h1.3M269.4 413.07h-1.3M38.5 410.49h1.3M269.4 410.49h-1.3M38.5 408.38h1.3M269.4 408.38h-1.3M38.5 406.60h1.3M269.4 406.60h-1.3M38.5 405.06h1.3M269.4 405.06h-1.3M38.5 403.69h1.3M269.4 403.69h-1.3M38.5 394.46h1.3M269.4 394.46h-1.3M38.5 389.77h1.3M269.4 389.77h-1.3M38.5 386.45h1.3M269.4 386.45h-1.3M38.5 383.86h1.3M269.4 383.86h-1.3M38.5 381.76h1.3M269.4 381.76h-1.3M38.5 379.97h1.3M269.4 379.97h-1.3M38.5 378.43h1.3M269.4 378.43h-1.3M38.5 377.07h1.3M269.4 377.07h-1.3M38.5 367.84h1.3M269.4 367.84h-1.3M38.5 363.15h1.3M269.4 363.15h-1.3M38.5 359.82h1.3M269.4 359.82h-1.3M38.5 357.24h1.3M269.4 357.24h-1.3M38.5 355.13h1.3M269.4 355.13h-1.3M38.5 353.35h1.3M269.4 353.35h-1.3M38.5 351.81h1.3M269.4 351.81h-1.3M38.5 350.44h1.3M269.4 350.44h-1.3M38.5 341.21h1.3M269.4 341.21h-1.3M38.5 336.52h1.3M269.4 336.52h-1.3M38.5 333.20h1.3M269.4 333.20h-1.3M38.5 330.61h1.3M269.4 330.61h-1.3M38.5 328.51h1.3M269.4 328.51h-1.3M38.5 326.72h1.3M269.4 326.72h-1.3M38.5 325.18h1.3M269.4 325.18h-1.3M38.5 323.82h1.3M269.4 323.82h-1.3" stroke="#b4b4b4" stroke-width="0.45"/>
<path d="M38.5 322.60h2.0M269.4 322.60h-2.0" stroke="#c4c4c4" stroke-width="0.5"/>
<text x="37.10" y="324.20" font-size="4.3" text-anchor="end" fill="#262626">10<tspan font-size="3" dy="-1.6">-3</tspan></text>
<path d="M38.5 349.23h2.0M269.4 349.23h-2.0" stroke="#c4c4c4" stroke-width="0.5"/>
<text x="37.10" y="350.83" font-size="4.3" text-anchor="end" fill="#262626">10<tspan font-size="3" dy="-1.6">-4</tspan></text>
<path d="M38.5 375.85h2.0M269.4 375.85h-2.0" stroke="#c4c4c4" stroke-width="0.5"/>
<text x="37.10" y="377.45" font-size="4.3" text-anchor="end" fill="#262626">10<tspan font-size="3" dy="-1.6">-5</tspan></text>
<path d="M38.5 402.48h2.0M269.4 402.48h-2.0" stroke="#c4c4c4" stroke-width="0.5"/>
<text x="37.10" y="404.08" font-size="4.3" text-anchor="end" fill="#262626">10<tspan font-size="3" dy="-1.6">-6</tspan></text>
<path d="M38.5 429.10h2.0M269.4 429.10h-2.0" stroke="#c4c4c4" stroke-width="0.5"/>
<text x="37.10" y="430.70" font-size="4.3" text-anchor="end" fill="#262626">10<tspan font-size="3" dy="-1.6">-7</tspan></text>
<text x="152.60" y="315.70" font-size="7.25" font-weight="bold" text-anchor="middle" fill="#111" stroke="#111" stroke-width="0.12">PSD E (defined in EN 61373)</text>
<text x="153.60" y="450.60" font-size="4.3" text-anchor="middle" fill="#262626">Frequency</text>
<text x="153.60" y="455.60" font-size="4.2" text-anchor="middle" fill="#262626">[Hz]</text>
<text transform="translate(20.80,378.90) rotate(-90)" font-size="4.5" text-anchor="middle" fill="#262626">PSD</text>
<text transform="translate(27.60,378.90) rotate(-90)" font-size="4.5" text-anchor="middle" fill="#262626">[MPa<tspan font-size="3" dy="-1.5">2</tspan><tspan dy="1.5">/Hz]</tspan></text>
<text x="4.4" y="456.8" font-size="8.1" fill="#222" stroke="#222" stroke-width="0.15">(e)</text>
<clipPath id="cf"><rect x="314.2" y="318.6" width="228.09999999999997" height="120.0"/></clipPath>
<polyline clip-path="url(#cf)" points="313.9,402.7 343.0,376.5 360.0,366.8 372.1,385.2 381.5,359.1 389.1,368.8 395.6,350.3 401.2,346.5 406.1,353.3 410.5,366.0 414.6,347.6 418.2,369.4 421.6,354.0 424.7,337.9 427.6,337.1 430.3,344.4 432.8,356.5 435.2,344.4 437.5,337.9 439.6,337.0 441.7,338.9 443.6,342.9 445.5,340.3 447.3,338.2 449.0,342.9 450.7,344.2 452.2,340.7 453.8,381.2 455.2,373.1 456.7,344.7 458.0,337.0 459.4,341.9 460.7,365.9 461.9,367.8 463.1,361.2 464.3,369.7 465.5,344.7 466.6,368.5 467.7,361.3 468.7,337.8 469.8,342.3 470.8,376.1 471.8,380.3 472.7,352.2 473.7,340.6 474.6,366.5 475.5,367.8 476.4,344.1 477.3,369.3 478.1,340.7 478.9,337.6 479.8,341.7 480.6,343.5 481.3,337.2 482.1,338.4 482.9,359.6 483.6,342.1 484.3,336.9 485.1,361.0 485.8,341.4 486.5,343.2 487.1,339.2 487.8,364.6 488.5,341.8 489.1,363.8 489.8,341.7 490.4,344.9 491.0,362.6 491.6,344.3 492.2,340.8 492.8,340.9 493.4,339.2 494.0,378.0 494.6,378.6 495.1,341.1 495.7,376.4 496.2,382.9 496.8,339.3 497.3,380.0 497.8,337.8 498.4,338.8 498.9,342.2 499.4,343.6 499.9,365.2 500.4,345.2 500.9,366.4 501.4,340.1 501.8,368.0 502.3,381.5 502.8,355.3 503.2,373.7 503.7,380.5 504.2,344.7 504.6,347.9 505.0,345.0 505.5,337.3 505.9,344.6 506.4,342.9 506.8,343.9 507.2,351.4 507.6,337.9 508.0,345.2 508.4,341.2 508.8,339.2 509.2,344.5 509.6,339.5 510.0,381.1 510.4,348.2 510.8,342.0 511.2,343.4 511.6,351.7 512.0,337.9 512.3,343.9 512.7,343.1 513.1,357.6 513.4,339.2 513.8,338.7 514.1,339.9 514.5,343.3 514.9,346.8 515.2,341.9 515.5,375.9 515.9,339.4 516.2,340.9 516.6,344.0 516.9,348.2 517.2,343.2 517.6,344.0 517.9,343.3 518.2,342.8 518.5,357.0 518.9,343.2 519.2,348.0 519.5,374.5 519.8,344.2 520.1,345.0 520.4,349.6 520.7,387.6 521.0,348.4 521.3,349.2 521.6,378.7 521.9,371.6 522.2,343.9 522.5,382.1 522.8,348.2 523.1,377.6 523.4,377.9 523.7,348.1 523.9,344.9 524.2,347.1 524.5,346.4 524.8,374.2 525.1,351.4 525.3,344.1 525.6,346.0 525.9,347.1 526.1,372.8 526.4,350.1 526.7,350.1 526.9,350.2 527.2,377.7 527.4,349.4 527.7,373.9 528.0,370.0 528.2,379.9 528.5,348.1 528.7,378.8 529.0,388.8 529.2,369.7 529.5,346.6 529.7,366.8 530.0,354.2 530.2,352.7 530.4,378.2 530.7,348.6 530.9,352.6 531.2,368.1 531.4,354.9 531.6,354.0 531.9,353.0 532.1,348.7 532.3,352.2 532.6,349.6 532.8,347.3 533.0,351.0 533.2,349.3 533.5,353.2 533.7,349.1 533.9,354.0 534.1,362.1 534.4,349.8 534.6,354.9 534.8,355.2 535.0,349.7 535.2,354.5 535.4,354.3 535.7,351.0 535.9,353.0 536.1,371.6 536.3,377.7 536.5,352.4 536.7,354.7 536.9,357.4 537.1,378.6 537.3,374.6 537.5,350.0 537.7,356.8 537.9,356.3 538.1,352.6 538.3,351.3 538.5,372.0 538.7,352.7 538.9,395.2 539.1,396.2 539.3,355.7 539.5,351.9 539.7,365.2 539.9,376.3 540.1,355.1 540.3,356.7 540.5,381.9 540.7,363.3 540.9,353.7 541.1,365.7 541.2,355.0 541.4,388.2 541.6,390.6 541.8,355.9 542.0,357.1 542.2,358.3 542.3,380.6 542.5,366.4 542.7,371.8 542.9,358.1" fill="none" stroke="#EDB120" stroke-width="0.6" stroke-linejoin="round" opacity="1.0"/>
<polyline clip-path="url(#cf)" points="313.9,405.5 314.5,405.1 315.0,404.7 315.6,404.3 316.2,403.9 316.8,403.5 317.3,403.1 317.9,402.7 318.5,402.3 319.1,401.9 319.6,401.5 320.2,401.1 320.8,400.7 321.4,400.3 321.9,400.0 322.5,399.6 323.1,399.2 323.7,398.8 324.2,398.4 324.8,398.0 325.4,397.6 326.0,397.2 326.5,396.8 327.1,396.4 327.7,396.0 328.3,395.6 328.8,395.2 329.4,394.8 330.0,394.4 330.6,394.1 331.1,393.7 331.7,393.3 332.3,392.9 332.9,392.5 333.4,392.1 334.0,391.7 334.6,391.3 335.2,390.9 335.7,390.5 336.3,390.1 336.9,389.7 337.4,389.3 338.0,388.9 338.6,388.6 339.2,388.2 339.7,387.8 340.3,387.4 340.9,387.0 341.5,386.6 342.0,386.2 342.6,385.8 343.2,385.4 343.8,385.0 344.3,384.6 344.9,384.2 345.5,383.8 346.1,383.4 346.6,383.0 347.2,382.7 347.8,382.3 348.4,381.9 348.9,381.5 349.5,381.1 350.1,380.7 350.7,380.3 351.2,379.9 351.8,379.5 352.4,379.1 353.0,378.7 353.5,378.3 354.1,377.9 354.7,377.5 355.3,377.2 355.8,376.8 356.4,376.4 357.0,376.0 357.6,375.6 358.1,375.2 358.7,374.8 359.3,374.4 359.8,374.0 360.4,373.6 361.0,373.2 361.6,372.8 362.1,372.4 362.7,372.0 363.3,371.6 363.9,371.3 364.4,370.9 365.0,370.5 365.6,370.1 366.2,369.7 366.7,369.3 367.3,368.9 367.9,368.5 368.5,368.1 369.0,367.7 369.6,367.3 370.2,366.9 370.8,366.5 371.3,366.1 371.9,365.8 372.5,365.4 373.1,365.0 373.6,364.6 374.2,364.2 374.8,363.8 375.4,363.4 375.9,363.0 376.5,362.6 377.1,362.2 377.7,361.8 378.2,361.4 378.8,361.0 379.4,360.6 379.9,360.2 380.5,359.9 381.1,359.5 381.7,359.1 382.2,358.7 382.8,358.3 383.4,357.9 384.0,357.5 384.5,357.1 385.1,356.7 385.7,356.3 386.3,355.9 386.8,355.5 387.4,355.1 388.0,354.7 388.6,354.4 389.1,354.0 389.7,353.6 390.3,353.2 390.9,352.8 391.4,352.4 392.0,352.0 392.6,351.6 393.2,351.2 393.7,350.8 394.3,350.4 394.9,350.0 395.5,349.6 396.0,349.2 396.6,348.8 397.2,348.5 397.8,348.1 398.3,347.7 398.9,347.3 399.5,346.9 400.1,346.5 400.6,346.1 401.2,345.7 401.8,345.3 402.3,344.9 402.9,344.5 403.5,344.1 404.1,343.7 404.6,343.3 405.2,343.0 405.8,342.6 406.4,342.2 406.9,341.8 407.5,341.4 408.1,341.0 408.7,340.6 409.2,340.2 409.8,339.8 410.4,339.4 411.0,339.3 411.5,339.3 412.1,339.3 412.7,339.3 413.3,339.3 413.8,339.3 414.4,339.3 415.0,339.3 415.6,339.3 416.1,339.3 416.7,339.3 417.3,339.3 417.9,339.3 418.4,339.3 419.0,339.3 419.6,339.3 420.2,339.3 420.7,339.3 421.3,339.3 421.9,339.3 422.5,339.3 423.0,339.3 423.6,339.3 424.2,339.3 424.7,339.3 425.3,339.3 425.9,339.3 426.5,339.3 427.0,339.3 427.6,339.3 428.2,339.3 428.8,339.3 429.3,339.3 429.9,339.3 430.5,339.3 431.1,339.3 431.6,339.3 432.2,339.3 432.8,339.3 433.4,339.3 433.9,339.3 434.5,339.3 435.1,339.3 435.7,339.3 436.2,339.3 436.8,339.3 437.4,339.3 438.0,339.3 438.5,339.3 439.1,339.3 439.7,339.3 440.3,339.3 440.8,339.3 441.4,339.3 442.0,339.3 442.6,339.3 443.1,339.3 443.7,339.3 444.3,339.3 444.9,339.3 445.4,339.3 446.0,339.3 446.6,339.3 447.1,339.3 447.7,339.3 448.3,339.3 448.9,339.3 449.4,339.3 450.0,339.3 450.6,339.3 451.2,339.3 451.7,339.3 452.3,339.3 452.9,339.3 453.5,339.3 454.0,339.3 454.6,339.3 455.2,339.3 455.8,339.3 456.3,339.3 456.9,339.3 457.5,339.3 458.1,339.3 458.6,339.3 459.2,339.3 459.8,339.3 460.4,339.3 460.9,339.3 461.5,339.3 462.1,339.3 462.7,339.3 463.2,339.3 463.8,339.3 464.4,339.3 465.0,339.3 465.5,339.3 466.1,339.3 466.7,339.3 467.3,339.3 467.8,339.3 468.4,339.3 469.0,339.3 469.5,339.3 470.1,339.3 470.7,339.3 471.3,339.3 471.8,339.3 472.4,339.3 473.0,339.3 473.6,339.3 474.1,339.3 474.7,339.3 475.3,339.3 475.9,339.3 476.4,339.3 477.0,339.3 477.6,339.3 478.2,339.3 478.7,339.3 479.3,339.3 479.9,339.3 480.5,339.3 481.0,339.3 481.6,339.3 482.2,339.3 482.8,339.3 483.3,339.3 483.9,339.3 484.5,339.3 485.1,339.3 485.6,339.3 486.2,339.3 486.8,339.3 487.4,339.3 487.9,339.3 488.5,339.3 489.1,339.3 489.6,339.3 490.2,339.3 490.8,339.3 491.4,339.3 491.9,339.3 492.5,339.3 493.1,339.3 493.7,339.3 494.2,339.3 494.8,339.3 495.4,339.3 496.0,339.3 496.5,339.3 497.1,339.3 497.7,339.3 498.3,339.3 498.8,339.3 499.4,339.3 500.0,339.3 500.6,339.3 501.1,339.3 501.7,339.3 502.3,339.3 502.9,339.3 503.4,339.3 504.0,339.3 504.6,339.3 505.2,339.3 505.7,339.3 506.3,339.3 506.9,339.3 507.5,339.3 508.0,339.3 508.6,339.3 509.2,339.3 509.8,339.3 510.3,339.3 510.9,339.5 511.5,339.8 512.0,340.1 512.6,340.3 513.2,340.6 513.8,340.9 514.3,341.1 514.9,341.4 515.5,341.7 516.1,341.9 516.6,342.2 517.2,342.5 517.8,342.7 518.4,343.0 518.9,343.2 519.5,343.5 520.1,343.8 520.7,344.0 521.2,344.3 521.8,344.6 522.4,344.8 523.0,345.1 523.5,345.4 524.1,345.6 524.7,345.9 525.3,346.2 525.8,346.4 526.4,346.7 527.0,347.0 527.6,347.2 528.1,347.5 528.7,347.8 529.3,348.0 529.9,348.3 530.4,348.6 531.0,348.8 531.6,349.1 532.2,349.4 532.7,349.6 533.3,349.9 533.9,350.2 534.4,350.4 535.0,350.7 535.6,351.0 536.2,351.2 536.7,351.5 537.3,351.8 537.9,352.0 538.5,352.3 539.0,352.6 539.6,352.8 540.2,353.1 540.8,353.4 541.3,353.6 541.9,353.9 542.5,354.2 543.1,354.4" fill="none" stroke="#1C78C8" stroke-width="1.15" stroke-linejoin="round" opacity="1.0"/>
<polyline clip-path="url(#cf)" points="314.2,387.2 314.6,387.1 315.0,387.0 315.4,386.9 315.8,386.7 316.2,386.6 316.6,386.5 317.0,386.4 317.4,386.2 317.8,386.1 318.2,386.0 318.6,385.9 319.0,385.7 319.4,385.6 319.8,385.5 320.2,385.3 320.6,385.2 321.0,385.0 321.4,384.9 321.8,384.8 322.2,384.6 322.6,384.5 323.0,384.3 323.4,384.2 323.8,384.0 324.2,383.9 324.6,383.7 325.0,383.6 325.4,383.4 325.8,383.3 326.2,383.1 326.6,382.9 327.0,382.8 327.4,382.6 327.8,382.5 328.2,382.3 328.6,382.1 329.0,382.0 329.4,381.8 329.8,381.6 330.2,381.5 330.6,381.3 331.0,381.1 331.4,380.9 331.8,380.8 332.2,380.6 332.6,380.4 333.0,380.2 333.4,380.1 333.8,379.9 334.2,379.7 334.6,379.5 335.0,379.3 335.4,379.1 335.8,379.0 336.2,378.8 336.6,378.6 337.0,378.4 337.4,378.2 337.8,378.0 338.2,377.8 338.6,377.6 339.0,377.5 339.4,377.3 339.8,377.1 340.2,376.9 340.6,376.7 341.0,376.5 341.4,376.3 341.8,376.1 342.2,375.9 342.6,375.7 343.0,375.5 343.4,375.3 343.8,375.1 344.2,374.9 344.6,374.7 345.0,374.5 345.4,374.3 345.8,374.0 346.2,373.8 346.6,373.6 347.0,373.4 347.4,373.2 347.8,372.9 348.2,372.7 348.6,372.5 349.0,372.2 349.4,372.0 349.8,371.7 350.2,371.5 350.6,371.3 351.0,371.0 351.4,370.8 351.8,370.5 352.2,370.3 352.6,370.0 353.0,369.8 353.4,369.5 353.8,369.3 354.2,369.0 354.6,368.7 355.0,368.5 355.4,368.2 355.8,368.0 356.2,367.7 356.6,367.4 357.0,367.2 357.4,366.9 357.8,366.6 358.2,366.4 358.6,366.1 359.0,365.8 359.4,365.6 359.8,365.3 360.2,365.0 360.6,364.8 361.0,364.5 361.4,364.2 361.8,363.9 362.2,363.6 362.6,363.3 363.0,362.9 363.4,362.6 363.8,362.3 364.2,361.9 364.6,361.6 365.0,361.2 365.4,360.9 365.8,360.6 366.2,360.2 366.6,359.9 367.0,359.6 367.4,359.2 367.8,358.9 368.2,358.6 368.6,358.3 369.0,358.0 369.4,357.7 369.8,357.5 370.2,357.2 370.6,357.0 371.0,356.7 371.4,356.5 371.8,356.3 372.2,356.2 372.6,356.0 373.0,355.8 373.4,355.7 373.8,355.6 374.2,355.4 374.6,355.3 375.0,355.2 375.4,355.1 375.8,355.0 376.2,354.8 376.6,354.7 377.0,354.6 377.4,354.5 377.8,354.4 378.2,354.3 378.6,354.2 379.0,354.1 379.4,354.0 379.8,353.9 380.2,353.8 380.6,353.7 381.0,353.6 381.4,353.4 381.8,353.3 382.2,353.2 382.6,353.0 383.0,352.9 383.4,352.7 383.8,352.6 384.2,352.4 384.6,352.3 385.0,352.1 385.4,352.0 385.8,351.8 386.2,351.7 386.6,351.5 387.0,351.4 387.4,351.2 387.8,351.0 388.2,350.9 388.6,350.7 389.0,350.5 389.4,350.3 389.8,350.2 390.2,350.0 390.6,349.8 391.0,349.7 391.4,349.5 391.8,349.3 392.2,349.1 392.6,348.9 393.0,348.7 393.4,348.5 393.8,348.3 394.2,348.1 394.6,347.9 395.0,347.6 395.4,347.3 395.8,347.0 396.2,346.6 396.6,346.1 397.0,345.6 397.4,345.0 397.8,344.4 398.2,343.9 398.6,343.3 399.0,342.7 399.4,342.2 399.8,341.7 400.2,341.3 400.6,341.0 401.0,340.7 401.4,340.6 401.8,340.4 402.2,340.2 402.6,340.1 403.0,339.9 403.4,339.8 403.8,339.6 404.2,339.5 404.6,339.4 405.0,339.3 405.4,339.3 405.8,339.2 406.2,339.2 406.6,339.2 407.0,339.3 407.4,339.4 407.8,339.6 408.2,339.9 408.6,340.2 409.0,340.6 409.4,341.0 409.8,341.4 410.2,341.9 410.6,342.3 411.0,342.8 411.4,343.2 411.8,343.6 412.2,344.0 412.6,344.3 413.0,344.6 413.4,344.9 413.8,345.1 414.2,345.2 414.6,345.2 415.0,345.1 415.4,345.0 415.8,344.9 416.2,344.7 416.6,344.4 417.0,344.1 417.4,343.8 417.8,343.5 418.2,343.1 418.6,342.7 419.0,342.3 419.4,341.9 419.8,341.5 420.2,341.1 420.6,340.7 421.0,340.4 421.4,340.0 421.8,339.7 422.2,339.4 422.6,339.2 423.0,339.0 423.4,338.8 423.8,338.7 424.2,338.7 424.6,338.7 425.0,338.8 425.4,338.9 425.8,339.0 426.2,339.1 426.6,339.3 427.0,339.5 427.4,339.7 427.8,339.9 428.2,340.1 428.6,340.4 429.0,340.6 429.4,340.9 429.8,341.2 430.2,341.4 430.6,341.7 431.0,342.0 431.4,342.2 431.8,342.5 432.2,342.7 432.6,343.0 433.0,343.3 433.4,343.6 433.8,343.9 434.2,344.2 434.6,344.6 435.0,345.0 435.4,345.3 435.8,345.7 436.2,346.1 436.6,346.4 437.0,346.8 437.4,347.1 437.8,347.4 438.2,347.6 438.6,347.9 439.0,348.1 439.4,348.2 439.8,348.3 440.2,348.4 440.6,348.4 441.0,348.2 441.4,347.8 441.8,347.3 442.2,346.7 442.6,345.9 443.0,345.1 443.4,344.2 443.8,343.2 444.2,342.2 444.6,341.2 445.0,340.2 445.4,339.2 445.8,338.3 446.2,337.4 446.6,336.6 447.0,335.9 447.4,335.4 447.8,335.0 448.2,334.8 448.6,334.7 449.0,334.7 449.4,334.7 449.8,334.7 450.2,334.7 450.6,334.7 451.0,334.7 451.4,334.7 451.8,334.7 452.2,334.7 452.6,334.7 453.0,334.7 453.4,334.7 453.8,334.7 454.2,334.7 454.6,334.7 455.0,334.7 455.4,334.8 455.8,335.0 456.2,335.3 456.6,335.7 457.0,336.1 457.4,336.7 457.8,337.4 458.2,338.0 458.6,338.8 459.0,339.6 459.4,340.3 459.8,341.1 460.2,342.0 460.6,342.7 461.0,343.5 461.4,344.3 461.8,344.9 462.2,345.6 462.6,346.2 463.0,346.6 463.4,347.0 463.8,347.3 464.2,347.5 464.6,347.6 465.0,347.6 465.4,347.5 465.8,347.5 466.2,347.4 466.6,347.2 467.0,347.1 467.4,346.9 467.8,346.7 468.2,346.5 468.6,346.3 469.0,346.1 469.4,345.8 469.8,345.5 470.2,345.2 470.6,344.7 471.0,343.9 471.4,343.0 471.8,342.1 472.2,341.0 472.6,340.0 473.0,339.1 473.4,338.3 473.8,337.6 474.2,337.2 474.6,336.9 475.0,336.6 475.4,336.3 475.8,336.0 476.2,335.8 476.6,335.6 477.0,335.4 477.4,335.3 477.8,335.2 478.2,335.2 478.6,335.4 479.0,335.9 479.4,336.8 479.8,337.7 480.2,338.8 480.6,339.9 481.0,340.9 481.4,341.8 481.8,342.4 482.2,342.7 482.6,342.6 483.0,342.4 483.4,342.0 483.8,341.5 484.2,340.9 484.6,340.2 485.0,339.4 485.4,338.6 485.8,337.9 486.2,337.1 486.6,336.5 487.0,335.9 487.4,335.4 487.8,335.1 488.2,334.9 488.6,334.6 489.0,334.3 489.4,334.1 489.8,333.9 490.2,333.6 490.6,333.4 491.0,333.2 491.4,333.1 491.8,332.9 492.2,332.8 492.6,332.7 493.0,332.6 493.4,332.5 493.8,332.5 494.2,332.7 494.6,333.4 495.0,334.5 495.4,335.9 495.8,337.3 496.2,338.7 496.6,339.8 497.0,340.5 497.4,340.7 497.8,340.6 498.2,340.3 498.6,339.9 499.0,339.4 499.4,338.9 499.8,338.4 500.2,338.0 500.6,337.6 501.0,337.4 501.4,337.3 501.8,337.3 502.2,337.4 502.6,337.4 503.0,337.5 503.4,337.7 503.8,337.8 504.2,337.9 504.6,338.1 505.0,338.2 505.4,338.3 505.8,338.4 506.2,338.5 506.6,338.6 507.0,338.6 507.4,338.6 507.8,338.7 508.2,338.7 508.6,338.7 509.0,338.7 509.4,338.7 509.8,338.8 510.2,338.9 510.6,339.2 511.0,339.9 511.4,340.6 511.8,341.5 512.2,342.4 512.6,343.1 513.0,343.7 513.4,344.1 513.8,344.1 514.2,343.9 514.6,343.7 515.0,343.3 515.4,343.0 515.8,342.5 516.2,342.2 516.6,341.8 517.0,341.5 517.4,341.3 517.8,341.3 518.2,341.4 518.6,341.6 519.0,342.0 519.4,342.3 519.8,342.8 520.2,343.2 520.6,343.5 521.0,343.8 521.4,344.0 521.8,344.1 522.2,344.0 522.6,343.8 523.0,343.5 523.4,343.2 523.8,342.9 524.2,342.7 524.6,342.7 525.0,343.3 525.4,344.4 525.8,345.7 526.2,347.2 526.6,348.4 527.0,349.3 527.4,349.5 527.8,349.4 528.2,349.2 528.6,348.9 529.0,348.5 529.4,348.1 529.8,347.7 530.2,347.4 530.6,347.1 531.0,346.9 531.4,346.8 531.8,346.8 532.2,346.9 532.6,347.1 533.0,347.3 533.4,347.5 533.8,347.8 534.2,348.0 534.6,348.3 535.0,348.5 535.4,348.7 535.8,348.9 536.2,349.1 536.6,349.3 537.0,349.5 537.4,349.7 537.8,349.9 538.2,350.1 538.6,350.3 539.0,350.6 539.4,350.8 539.8,351.1 540.2,351.4 540.6,351.8 541.0,352.1 541.4,352.5 541.8,352.9 542.2,353.4 542.6,353.8 543.0,354.3 543.4,354.8" fill="none" stroke="#DA5620" stroke-width="1.1" stroke-linejoin="round" opacity="1.0"/>
<polyline clip-path="url(#cf)" points="496.0,337.3 496.8,343.5 497.6,340.2 498.4,342.2 499.2,338.5 500.0,344.0 500.8,337.2 501.6,342.5 502.4,337.4 503.2,343.4 504.0,337.5 504.8,343.2 505.6,338.2 506.4,340.6 507.2,337.6 508.0,342.4 508.8,338.6 509.6,344.6 510.4,338.9 511.2,345.0 512.0,341.8 512.8,345.7 513.6,343.7 514.4,347.9 515.2,343.0 516.0,348.4 516.8,341.1 517.6,350.0 518.4,341.5 519.2,346.2 520.0,342.2 520.8,349.4 521.6,343.8 522.4,348.4 523.2,343.2 524.0,348.2 524.8,342.1 525.6,353.9 526.4,347.4 527.2,359.9 528.0,349.0 528.8,358.6 529.6,347.0 530.4,355.7 531.2,346.0 532.0,354.6 532.8,346.8 533.6,350.0 534.4,347.9 535.2,354.3 536.0,348.5 536.8,360.8 537.6,349.1 538.4,362.3 539.2,350.0 540.0,362.2 540.8,351.8 541.6,354.3" fill="none" stroke="#DA5620" stroke-width="0.8" stroke-linejoin="round" opacity="1.0"/>
<rect x="314.2" y="319.6" width="228.10" height="118.50" fill="none" stroke="#c4c4c4" stroke-width="0.9"/>
<path d="M313.90 438.1v-2.0M313.90 319.6v2.0" stroke="#c4c4c4" stroke-width="0.5"/>
<text x="313.90" y="444.70" font-size="4.2" text-anchor="middle" fill="#262626">10<tspan font-size="3" dy="-1.6">0</tspan></text>
<path d="M410.55 438.1v-2.0M410.55 319.6v2.0" stroke="#c4c4c4" stroke-width="0.5"/>
<text x="410.55" y="444.70" font-size="4.2" text-anchor="middle" fill="#262626">10<tspan font-size="3" dy="-1.6">1</tspan></text>
<path d="M507.20 438.1v-2.0M507.20 319.6v2.0" stroke="#c4c4c4" stroke-width="0.5"/>
<text x="507.20" y="444.70" font-size="4.2" text-anchor="middle" fill="#262626">10<tspan font-size="3" dy="-1.6">2</tspan></text>
<path d="M342.99 438.1v-1.3M342.99 319.6v1.3M360.01 438.1v-1.3M360.01 319.6v1.3M372.09 438.1v-1.3M372.09 319.6v1.3M381.46 438.1v-1.3M381.46 319.6v1.3M389.11 438.1v-1.3M389.11 319.6v1.3M395.58 438.1v-1.3M395.58 319.6v1.3M401.18 438.1v-1.3M401.18 319.6v1.3M406.13 438.1v-1.3M406.13 319.6v1.3M439.64 438.1v-1.3M439.64 319.6v1.3M456.66 438.1v-1.3M456.66 319.6v1.3M468.74 438.1v-1.3M468.74 319.6v1.3M478.11 438.1v-1.3M478.11 319.6v1.3M485.76 438.1v-1.3M485.76 319.6v1.3M492.23 438.1v-1.3M492.23 319.6v1.3M497.83 438.1v-1.3M497.83 319.6v1.3M502.78 438.1v-1.3M502.78 319.6v1.3M536.29 438.1v-1.3M536.29 319.6v1.3" stroke="#b4b4b4" stroke-width="0.45"/>
<path d="M314.2 435.63h1.3M542.3 435.63h-1.3M314.2 434.21h1.3M542.3 434.21h-1.3M314.2 432.97h1.3M542.3 432.97h-1.3M314.2 431.88h1.3M542.3 431.88h-1.3M314.2 424.48h1.3M542.3 424.48h-1.3M314.2 420.72h1.3M542.3 420.72h-1.3M314.2 418.05h1.3M542.3 418.05h-1.3M314.2 415.98h1.3M542.3 415.98h-1.3M314.2 414.29h1.3M542.3 414.29h-1.3M314.2 412.87h1.3M542.3 412.87h-1.3M314.2 411.63h1.3M542.3 411.63h-1.3M314.2 410.54h1.3M542.3 410.54h-1.3M314.2 403.14h1.3M542.3 403.14h-1.3M314.2 399.38h1.3M542.3 399.38h-1.3M314.2 396.71h1.3M542.3 396.71h-1.3M314.2 394.64h1.3M542.3 394.64h-1.3M314.2 392.95h1.3M542.3 392.95h-1.3M314.2 391.53h1.3M542.3 391.53h-1.3M314.2 390.29h1.3M542.3 390.29h-1.3M314.2 389.20h1.3M542.3 389.20h-1.3M314.2 381.80h1.3M542.3 381.80h-1.3M314.2 378.04h1.3M542.3 378.04h-1.3M314.2 375.37h1.3M542.3 375.37h-1.3M314.2 373.30h1.3M542.3 373.30h-1.3M314.2 371.61h1.3M542.3 371.61h-1.3M314.2 370.19h1.3M542.3 370.19h-1.3M314.2 368.95h1.3M542.3 368.95h-1.3M314.2 367.86h1.3M542.3 367.86h-1.3M314.2 360.46h1.3M542.3 360.46h-1.3M314.2 356.70h1.3M542.3 356.70h-1.3M314.2 354.03h1.3M542.3 354.03h-1.3M314.2 351.96h1.3M542.3 351.96h-1.3M314.2 350.27h1.3M542.3 350.27h-1.3M314.2 348.85h1.3M542.3 348.85h-1.3M314.2 347.61h1.3M542.3 347.61h-1.3M314.2 346.52h1.3M542.3 346.52h-1.3M314.2 339.12h1.3M542.3 339.12h-1.3M314.2 335.36h1.3M542.3 335.36h-1.3M314.2 332.69h1.3M542.3 332.69h-1.3M314.2 330.62h1.3M542.3 330.62h-1.3M314.2 328.93h1.3M542.3 328.93h-1.3M314.2 327.51h1.3M542.3 327.51h-1.3M314.2 326.27h1.3M542.3 326.27h-1.3M314.2 325.18h1.3M542.3 325.18h-1.3" stroke="#b4b4b4" stroke-width="0.45"/>
<path d="M314.2 324.20h2.0M542.3 324.20h-2.0" stroke="#c4c4c4" stroke-width="0.5"/>
<text x="312.80" y="325.80" font-size="4.3" text-anchor="end" fill="#262626">10<tspan font-size="3" dy="-1.6">-2</tspan></text>
<path d="M314.2 345.54h2.0M542.3 345.54h-2.0" stroke="#c4c4c4" stroke-width="0.5"/>
<text x="312.80" y="347.14" font-size="4.3" text-anchor="end" fill="#262626">10<tspan font-size="3" dy="-1.6">-3</tspan></text>
<path d="M314.2 366.88h2.0M542.3 366.88h-2.0" stroke="#c4c4c4" stroke-width="0.5"/>
<text x="312.80" y="368.48" font-size="4.3" text-anchor="end" fill="#262626">10<tspan font-size="3" dy="-1.6">-4</tspan></text>
<path d="M314.2 388.22h2.0M542.3 388.22h-2.0" stroke="#c4c4c4" stroke-width="0.5"/>
<text x="312.80" y="389.82" font-size="4.3" text-anchor="end" fill="#262626">10<tspan font-size="3" dy="-1.6">-5</tspan></text>
<path d="M314.2 409.56h2.0M542.3 409.56h-2.0" stroke="#c4c4c4" stroke-width="0.5"/>
<text x="312.80" y="411.16" font-size="4.3" text-anchor="end" fill="#262626">10<tspan font-size="3" dy="-1.6">-6</tspan></text>
<path d="M314.2 430.90h2.0M542.3 430.90h-2.0" stroke="#c4c4c4" stroke-width="0.5"/>
<text x="312.80" y="432.50" font-size="4.3" text-anchor="end" fill="#262626">10<tspan font-size="3" dy="-1.6">-7</tspan></text>
<text x="429.00" y="315.70" font-size="7.25" font-weight="bold" text-anchor="middle" fill="#111" stroke="#111" stroke-width="0.12">PSD F (defined in EN 61373)</text>
<text x="429.60" y="450.40" font-size="4.3" text-anchor="middle" fill="#262626">Frequency</text>
<text x="429.60" y="456.40" font-size="4.2" text-anchor="middle" fill="#262626">[Hz]</text>
<text transform="translate(296.90,378.85) rotate(-90)" font-size="4.5" text-anchor="middle" fill="#262626">PSD</text>
<text transform="translate(303.30,378.85) rotate(-90)" font-size="4.5" text-anchor="middle" fill="#262626">[MPa<tspan font-size="3" dy="-1.5">2</tspan><tspan dy="1.5">/Hz]</tspan></text>
<text x="280.4" y="456.6" font-size="8.1" fill="#222" stroke="#222" stroke-width="0.15">(f)</text>
</svg>
</body></html>
